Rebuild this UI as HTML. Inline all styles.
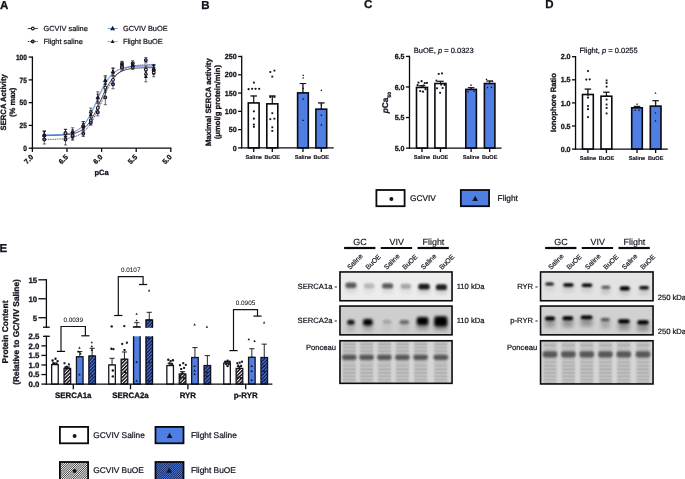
<!DOCTYPE html>
<html><head><meta charset="utf-8"><title>Figure</title>
<style>
html,body{margin:0;padding:0;background:#fff;}
body{width:685px;height:479px;overflow:hidden;}
svg{display:block;font-family:"Liberation Sans",Arial,sans-serif;fill:#18121f;text-rendering:geometricPrecision;}
text{stroke:#18121f;stroke-width:0.22px;}
text[font-weight="bold"]{stroke-width:0.3px;}
</style></head><body>
<svg width="685" height="479" viewBox="0 0 685 479">
<rect x="0" y="0" width="685" height="479" fill="#fff"/>
<text x="0.00" y="8.50" font-size="11.5" font-weight="bold" text-anchor="start">A</text>
<text x="201.20" y="8.90" font-size="11.5" font-weight="bold" text-anchor="start">B</text>
<text x="364.00" y="7.90" font-size="11.5" font-weight="bold" text-anchor="start">C</text>
<text x="545.20" y="8.10" font-size="11.5" font-weight="bold" text-anchor="start">D</text>
<text x="-0.60" y="251.50" font-size="11.5" font-weight="bold" text-anchor="start">E</text>
<line x1="27.80" y1="28.50" x2="37.80" y2="28.50" stroke="#18121f" stroke-width="0.8"/>
<circle cx="32.80" cy="28.50" r="1.35" fill="#fff" stroke="#18121f" stroke-width="1.1"/>
<text x="43.40" y="30.90" font-size="7.4" font-weight="normal" text-anchor="start">GCVIV saline</text>
<line x1="27.80" y1="41.50" x2="37.80" y2="41.50" stroke="#18121f" stroke-width="0.8" stroke-dasharray="1.6 0.6"/>
<circle cx="32.80" cy="41.50" r="1.35" fill="#4f7fe2" stroke="#18121f" stroke-width="1.1"/>
<text x="43.40" y="43.90" font-size="7.4" font-weight="normal" text-anchor="start">Flight saline</text>
<line x1="107.60" y1="28.50" x2="117.60" y2="28.50" stroke="#4f7fe2" stroke-width="0.8"/>
<polygon points="112.60,26.90 111.08,29.70 114.12,29.70" fill="#bbb" stroke="#18121f" stroke-width="1.1"/>
<text x="122.90" y="30.90" font-size="7.4" font-weight="normal" text-anchor="start">GCVIV BuOE</text>
<line x1="107.60" y1="41.50" x2="117.60" y2="41.50" stroke="#4f7fe2" stroke-width="0.8" stroke-dasharray="1.6 0.6"/>
<polygon points="112.60,39.50 110.70,43.00 114.50,43.00" fill="#18121f" stroke="none" stroke-width="0.5"/>
<text x="122.90" y="43.90" font-size="7.4" font-weight="normal" text-anchor="start">Flight BuOE</text>
<line x1="32.40" y1="56.45" x2="32.40" y2="148.85" stroke="#0b0910" stroke-width="1.3"/>
<line x1="31.75" y1="148.20" x2="171.45" y2="148.20" stroke="#0b0910" stroke-width="1.3"/>
<line x1="28.70" y1="148.20" x2="32.40" y2="148.20" stroke="#0b0910" stroke-width="1.3"/>
<text transform="translate(26.90 150.90) scale(0.87 1)" x="0" y="0" font-size="7.6" font-weight="bold" text-anchor="end">0</text>
<line x1="28.70" y1="125.42" x2="32.40" y2="125.42" stroke="#0b0910" stroke-width="1.3"/>
<text transform="translate(26.90 128.12) scale(0.87 1)" x="0" y="0" font-size="7.6" font-weight="bold" text-anchor="end">25</text>
<line x1="28.70" y1="102.65" x2="32.40" y2="102.65" stroke="#0b0910" stroke-width="1.3"/>
<text transform="translate(26.90 105.35) scale(0.87 1)" x="0" y="0" font-size="7.6" font-weight="bold" text-anchor="end">50</text>
<line x1="28.70" y1="79.87" x2="32.40" y2="79.87" stroke="#0b0910" stroke-width="1.3"/>
<text transform="translate(26.90 82.57) scale(0.87 1)" x="0" y="0" font-size="7.6" font-weight="bold" text-anchor="end">75</text>
<line x1="28.70" y1="57.10" x2="32.40" y2="57.10" stroke="#0b0910" stroke-width="1.3"/>
<text transform="translate(26.90 59.80) scale(0.87 1)" x="0" y="0" font-size="7.6" font-weight="bold" text-anchor="end">100</text>
<line x1="32.40" y1="148.20" x2="32.40" y2="151.90" stroke="#0b0910" stroke-width="1.3"/>
<text x="33.90" y="157.50" font-size="7.1" font-weight="bold" text-anchor="end" transform="rotate(-45 33.9 157.5)">7.0</text>
<line x1="67.00" y1="148.20" x2="67.00" y2="151.90" stroke="#0b0910" stroke-width="1.3"/>
<text x="68.50" y="157.50" font-size="7.1" font-weight="bold" text-anchor="end" transform="rotate(-45 68.5 157.5)">6.5</text>
<line x1="101.60" y1="148.20" x2="101.60" y2="151.90" stroke="#0b0910" stroke-width="1.3"/>
<text x="103.10" y="157.50" font-size="7.1" font-weight="bold" text-anchor="end" transform="rotate(-45 103.1 157.5)">6.0</text>
<line x1="136.20" y1="148.20" x2="136.20" y2="151.90" stroke="#0b0910" stroke-width="1.3"/>
<text x="137.70" y="157.50" font-size="7.1" font-weight="bold" text-anchor="end" transform="rotate(-45 137.70000000000002 157.5)">5.5</text>
<line x1="170.80" y1="148.20" x2="170.80" y2="151.90" stroke="#0b0910" stroke-width="1.3"/>
<text x="172.30" y="157.50" font-size="7.1" font-weight="bold" text-anchor="end" transform="rotate(-45 172.3 157.5)">5.0</text>
<text x="5.60" y="102.35" font-size="7.7" font-weight="bold" text-anchor="middle" transform="rotate(-90 5.6 102.35)">SERCA Activity</text>
<text x="15.40" y="102.35" font-size="7.7" font-weight="bold" text-anchor="middle" transform="rotate(-90 15.4 102.35)">(% max)</text>
<text x="101.50" y="175.00" font-size="7.5" font-weight="bold" text-anchor="middle">pCa</text>
<polyline points="44.3,135.41 45.3,135.40 46.3,135.39 47.3,135.39 48.3,135.38 49.3,135.37 50.3,135.36 51.3,135.35 52.3,135.33 53.3,135.31 54.3,135.30 55.3,135.27 56.3,135.25 57.3,135.22 58.3,135.19 59.3,135.15 60.3,135.11 61.3,135.07 62.3,135.01 63.3,134.95 64.3,134.88 65.3,134.80 66.3,134.71 67.3,134.61 68.3,134.49 69.3,134.36 70.3,134.20 71.3,134.03 72.3,133.83 73.3,133.61 74.3,133.36 75.3,133.07 76.3,132.74 77.3,132.38 78.3,131.96 79.3,131.50 80.3,130.97 81.3,130.38 82.3,129.72 83.3,128.98 84.3,128.16 85.3,127.25 86.3,126.24 87.3,125.13 88.3,123.91 89.3,122.58 90.3,121.14 91.3,119.57 92.3,117.90 93.3,116.11 94.3,114.22 95.3,112.23 96.3,110.16 97.3,108.02 98.3,105.81 99.3,103.58 100.3,101.32 101.3,99.07 102.3,96.83 103.3,94.64 104.3,92.51 105.3,90.45 106.3,88.48 107.3,86.60 108.3,84.83 109.3,83.18 110.3,81.64 111.3,80.21 112.3,78.90 113.3,77.70 114.3,76.60 115.3,75.61 116.3,74.72 117.3,73.91 118.3,73.19 119.3,72.54 120.3,71.96 121.3,71.44 122.3,70.99 123.3,70.58 124.3,70.22 125.3,69.90 126.3,69.62 127.3,69.37 128.3,69.15 129.3,68.96 130.3,68.79 131.3,68.64 132.3,68.51 133.3,68.40 134.3,68.30 135.3,68.21 136.3,68.13 137.3,68.06 138.3,68.00 139.3,67.95 140.3,67.90 141.3,67.86 142.3,67.83 143.3,67.80 144.3,67.77 145.3,67.74 146.3,67.72 147.3,67.71 148.3,67.69 149.3,67.68 150.3,67.66 151.3,67.65 152.3,67.64 153.3,67.63 154.3,67.63 155.3,67.62" fill="none" stroke="#18121f" stroke-width="0.8"/>
<polyline points="44.3,139.47 45.3,139.46 46.3,139.45 47.3,139.43 48.3,139.42 49.3,139.40 50.3,139.38 51.3,139.36 52.3,139.34 53.3,139.32 54.3,139.29 55.3,139.25 56.3,139.22 57.3,139.17 58.3,139.13 59.3,139.07 60.3,139.02 61.3,138.95 62.3,138.87 63.3,138.79 64.3,138.69 65.3,138.59 66.3,138.47 67.3,138.33 68.3,138.18 69.3,138.01 70.3,137.82 71.3,137.60 72.3,137.36 73.3,137.09 74.3,136.79 75.3,136.46 76.3,136.08 77.3,135.67 78.3,135.20 79.3,134.68 80.3,134.11 81.3,133.47 82.3,132.77 83.3,132.00 84.3,131.14 85.3,130.21 86.3,129.18 87.3,128.06 88.3,126.85 89.3,125.53 90.3,124.12 91.3,122.60 92.3,120.97 93.3,119.25 94.3,117.42 95.3,115.51 96.3,113.51 97.3,111.44 98.3,109.30 99.3,107.11 100.3,104.89 101.3,102.64 102.3,100.39 103.3,98.15 104.3,95.94 105.3,93.77 106.3,91.66 107.3,89.61 108.3,87.65 109.3,85.77 110.3,83.98 111.3,82.30 112.3,80.72 113.3,79.24 114.3,77.86 115.3,76.59 116.3,75.41 117.3,74.33 118.3,73.34 119.3,72.44 120.3,71.62 121.3,70.87 122.3,70.20 123.3,69.59 124.3,69.04 125.3,68.54 126.3,68.10 127.3,67.70 128.3,67.34 129.3,67.02 130.3,66.73 131.3,66.47 132.3,66.24 133.3,66.04 134.3,65.85 135.3,65.69 136.3,65.55 137.3,65.42 138.3,65.30 139.3,65.20 140.3,65.11 141.3,65.03 142.3,64.96 143.3,64.89 144.3,64.84 145.3,64.79 146.3,64.74 147.3,64.70 148.3,64.67 149.3,64.64 150.3,64.61 151.3,64.58 152.3,64.56 153.3,64.54 154.3,64.52 155.3,64.51" fill="none" stroke="#18121f" stroke-width="0.8" stroke-dasharray="1 0.8"/>
<polyline points="44.3,134.93 45.3,134.92 46.3,134.91 47.3,134.90 48.3,134.88 49.3,134.87 50.3,134.85 51.3,134.83 52.3,134.81 53.3,134.78 54.3,134.75 55.3,134.72 56.3,134.68 57.3,134.63 58.3,134.58 59.3,134.52 60.3,134.46 61.3,134.38 62.3,134.30 63.3,134.20 64.3,134.09 65.3,133.96 66.3,133.82 67.3,133.65 68.3,133.47 69.3,133.26 70.3,133.02 71.3,132.74 72.3,132.44 73.3,132.09 74.3,131.69 75.3,131.25 76.3,130.75 77.3,130.19 78.3,129.56 79.3,128.85 80.3,128.07 81.3,127.20 82.3,126.23 83.3,125.16 84.3,123.98 85.3,122.70 86.3,121.29 87.3,119.77 88.3,118.14 89.3,116.39 90.3,114.53 91.3,112.57 92.3,110.51 93.3,108.37 94.3,106.17 95.3,103.92 96.3,101.64 97.3,99.36 98.3,97.08 99.3,94.83 100.3,92.64 101.3,90.51 102.3,88.46 103.3,86.50 104.3,84.65 105.3,82.91 106.3,81.29 107.3,79.78 108.3,78.39 109.3,77.11 110.3,75.94 111.3,74.88 112.3,73.92 113.3,73.06 114.3,72.28 115.3,71.58 116.3,70.96 117.3,70.40 118.3,69.91 119.3,69.47 120.3,69.08 121.3,68.74 122.3,68.43 123.3,68.16 124.3,67.93 125.3,67.72 126.3,67.53 127.3,67.37 128.3,67.23 129.3,67.10 130.3,66.99 131.3,66.90 132.3,66.81 133.3,66.74 134.3,66.67 135.3,66.61 136.3,66.56 137.3,66.52 138.3,66.48 139.3,66.45 140.3,66.42 141.3,66.39 142.3,66.37 143.3,66.35 144.3,66.33 145.3,66.32 146.3,66.30 147.3,66.29 148.3,66.28 149.3,66.27 150.3,66.27 151.3,66.26 152.3,66.25 153.3,66.25 154.3,66.24 155.3,66.24" fill="none" stroke="#4f7fe2" stroke-width="0.8"/>
<polyline points="44.3,135.36 45.3,135.35 46.3,135.34 47.3,135.32 48.3,135.31 49.3,135.29 50.3,135.27 51.3,135.24 52.3,135.21 53.3,135.18 54.3,135.15 55.3,135.11 56.3,135.06 57.3,135.01 58.3,134.95 59.3,134.89 60.3,134.81 61.3,134.73 62.3,134.63 63.3,134.52 64.3,134.40 65.3,134.26 66.3,134.11 67.3,133.93 68.3,133.73 69.3,133.50 70.3,133.25 71.3,132.97 72.3,132.64 73.3,132.28 74.3,131.88 75.3,131.43 76.3,130.92 77.3,130.35 78.3,129.72 79.3,129.02 80.3,128.25 81.3,127.39 82.3,126.44 83.3,125.40 84.3,124.26 85.3,123.02 86.3,121.68 87.3,120.22 88.3,118.66 89.3,116.99 90.3,115.22 91.3,113.36 92.3,111.40 93.3,109.37 94.3,107.26 95.3,105.11 96.3,102.91 97.3,100.70 98.3,98.49 99.3,96.28 100.3,94.12 101.3,92.00 102.3,89.94 103.3,87.96 104.3,86.06 105.3,84.26 106.3,82.57 107.3,80.97 108.3,79.49 109.3,78.11 110.3,76.84 111.3,75.67 112.3,74.60 113.3,73.63 114.3,72.74 115.3,71.94 116.3,71.22 117.3,70.57 118.3,69.99 119.3,69.46 120.3,68.99 121.3,68.58 122.3,68.20 123.3,67.87 124.3,67.57 125.3,67.31 126.3,67.08 127.3,66.87 128.3,66.69 129.3,66.53 130.3,66.38 131.3,66.26 132.3,66.14 133.3,66.04 134.3,65.96 135.3,65.88 136.3,65.81 137.3,65.75 138.3,65.70 139.3,65.65 140.3,65.61 141.3,65.57 142.3,65.54 143.3,65.51 144.3,65.49 145.3,65.46 146.3,65.44 147.3,65.43 148.3,65.41 149.3,65.40 150.3,65.39 151.3,65.38 152.3,65.37 153.3,65.36 154.3,65.35 155.3,65.35" fill="none" stroke="#4f7fe2" stroke-width="0.8" stroke-dasharray="1 0.8"/>
<line x1="44.30" y1="139.96" x2="44.30" y2="130.85" stroke="#0b0910" stroke-width="0.6"/>
<line x1="42.70" y1="139.96" x2="45.90" y2="139.96" stroke="#0b0910" stroke-width="0.6"/>
<line x1="42.70" y1="130.85" x2="45.90" y2="130.85" stroke="#0b0910" stroke-width="0.6"/>
<line x1="65.50" y1="136.61" x2="65.50" y2="129.32" stroke="#0b0910" stroke-width="0.6"/>
<line x1="63.90" y1="136.61" x2="67.10" y2="136.61" stroke="#0b0910" stroke-width="0.6"/>
<line x1="63.90" y1="129.32" x2="67.10" y2="129.32" stroke="#0b0910" stroke-width="0.6"/>
<line x1="72.60" y1="140.15" x2="72.60" y2="132.86" stroke="#0b0910" stroke-width="0.6"/>
<line x1="71.00" y1="140.15" x2="74.20" y2="140.15" stroke="#0b0910" stroke-width="0.6"/>
<line x1="71.00" y1="132.86" x2="74.20" y2="132.86" stroke="#0b0910" stroke-width="0.6"/>
<line x1="83.30" y1="130.81" x2="83.30" y2="121.70" stroke="#0b0910" stroke-width="0.6"/>
<line x1="81.70" y1="130.81" x2="84.90" y2="130.81" stroke="#0b0910" stroke-width="0.6"/>
<line x1="81.70" y1="121.70" x2="84.90" y2="121.70" stroke="#0b0910" stroke-width="0.6"/>
<line x1="90.80" y1="124.01" x2="90.80" y2="116.73" stroke="#0b0910" stroke-width="0.6"/>
<line x1="89.20" y1="124.01" x2="92.40" y2="124.01" stroke="#0b0910" stroke-width="0.6"/>
<line x1="89.20" y1="116.73" x2="92.40" y2="116.73" stroke="#0b0910" stroke-width="0.6"/>
<line x1="97.80" y1="112.39" x2="97.80" y2="103.28" stroke="#0b0910" stroke-width="0.6"/>
<line x1="96.20" y1="112.39" x2="99.40" y2="112.39" stroke="#0b0910" stroke-width="0.6"/>
<line x1="96.20" y1="103.28" x2="99.40" y2="103.28" stroke="#0b0910" stroke-width="0.6"/>
<line x1="105.30" y1="92.27" x2="105.30" y2="83.16" stroke="#0b0910" stroke-width="0.6"/>
<line x1="103.70" y1="92.27" x2="106.90" y2="92.27" stroke="#0b0910" stroke-width="0.6"/>
<line x1="103.70" y1="83.16" x2="106.90" y2="83.16" stroke="#0b0910" stroke-width="0.6"/>
<line x1="113.00" y1="83.51" x2="113.00" y2="76.22" stroke="#0b0910" stroke-width="0.6"/>
<line x1="111.40" y1="83.51" x2="114.60" y2="83.51" stroke="#0b0910" stroke-width="0.6"/>
<line x1="111.40" y1="76.22" x2="114.60" y2="76.22" stroke="#0b0910" stroke-width="0.6"/>
<line x1="122.00" y1="70.21" x2="122.00" y2="64.74" stroke="#0b0910" stroke-width="0.6"/>
<line x1="120.40" y1="70.21" x2="123.60" y2="70.21" stroke="#0b0910" stroke-width="0.6"/>
<line x1="120.40" y1="64.74" x2="123.60" y2="64.74" stroke="#0b0910" stroke-width="0.6"/>
<line x1="132.70" y1="69.38" x2="132.70" y2="63.91" stroke="#0b0910" stroke-width="0.6"/>
<line x1="131.10" y1="69.38" x2="134.30" y2="69.38" stroke="#0b0910" stroke-width="0.6"/>
<line x1="131.10" y1="63.91" x2="134.30" y2="63.91" stroke="#0b0910" stroke-width="0.6"/>
<line x1="145.85" y1="73.20" x2="145.85" y2="65.91" stroke="#0b0910" stroke-width="0.6"/>
<line x1="144.25" y1="73.20" x2="147.45" y2="73.20" stroke="#0b0910" stroke-width="0.6"/>
<line x1="144.25" y1="65.91" x2="147.45" y2="65.91" stroke="#0b0910" stroke-width="0.6"/>
<line x1="153.70" y1="76.74" x2="153.70" y2="67.63" stroke="#0b0910" stroke-width="0.6"/>
<line x1="152.10" y1="76.74" x2="155.30" y2="76.74" stroke="#0b0910" stroke-width="0.6"/>
<line x1="152.10" y1="67.63" x2="155.30" y2="67.63" stroke="#0b0910" stroke-width="0.6"/>
<line x1="44.30" y1="144.02" x2="44.30" y2="134.91" stroke="#0b0910" stroke-width="0.6"/>
<line x1="42.70" y1="144.02" x2="45.90" y2="144.02" stroke="#0b0910" stroke-width="0.6"/>
<line x1="42.70" y1="134.91" x2="45.90" y2="134.91" stroke="#0b0910" stroke-width="0.6"/>
<line x1="65.50" y1="144.94" x2="65.50" y2="134.01" stroke="#0b0910" stroke-width="0.6"/>
<line x1="63.90" y1="144.94" x2="67.10" y2="144.94" stroke="#0b0910" stroke-width="0.6"/>
<line x1="63.90" y1="134.01" x2="67.10" y2="134.01" stroke="#0b0910" stroke-width="0.6"/>
<line x1="72.60" y1="139.11" x2="72.60" y2="131.82" stroke="#0b0910" stroke-width="0.6"/>
<line x1="71.00" y1="139.11" x2="74.20" y2="139.11" stroke="#0b0910" stroke-width="0.6"/>
<line x1="71.00" y1="131.82" x2="74.20" y2="131.82" stroke="#0b0910" stroke-width="0.6"/>
<line x1="83.30" y1="136.55" x2="83.30" y2="131.08" stroke="#0b0910" stroke-width="0.6"/>
<line x1="81.70" y1="136.55" x2="84.90" y2="136.55" stroke="#0b0910" stroke-width="0.6"/>
<line x1="81.70" y1="131.08" x2="84.90" y2="131.08" stroke="#0b0910" stroke-width="0.6"/>
<line x1="90.80" y1="125.19" x2="90.80" y2="119.73" stroke="#0b0910" stroke-width="0.6"/>
<line x1="89.20" y1="125.19" x2="92.40" y2="125.19" stroke="#0b0910" stroke-width="0.6"/>
<line x1="89.20" y1="119.73" x2="92.40" y2="119.73" stroke="#0b0910" stroke-width="0.6"/>
<line x1="97.80" y1="115.84" x2="97.80" y2="108.55" stroke="#0b0910" stroke-width="0.6"/>
<line x1="96.20" y1="115.84" x2="99.40" y2="115.84" stroke="#0b0910" stroke-width="0.6"/>
<line x1="96.20" y1="108.55" x2="99.40" y2="108.55" stroke="#0b0910" stroke-width="0.6"/>
<line x1="105.30" y1="104.70" x2="105.30" y2="90.13" stroke="#0b0910" stroke-width="0.6"/>
<line x1="103.70" y1="104.70" x2="106.90" y2="104.70" stroke="#0b0910" stroke-width="0.6"/>
<line x1="103.70" y1="90.13" x2="106.90" y2="90.13" stroke="#0b0910" stroke-width="0.6"/>
<line x1="113.00" y1="88.78" x2="113.00" y2="79.67" stroke="#0b0910" stroke-width="0.6"/>
<line x1="111.40" y1="88.78" x2="114.60" y2="88.78" stroke="#0b0910" stroke-width="0.6"/>
<line x1="111.40" y1="79.67" x2="114.60" y2="79.67" stroke="#0b0910" stroke-width="0.6"/>
<line x1="122.00" y1="66.75" x2="122.00" y2="61.28" stroke="#0b0910" stroke-width="0.6"/>
<line x1="120.40" y1="66.75" x2="123.60" y2="66.75" stroke="#0b0910" stroke-width="0.6"/>
<line x1="120.40" y1="61.28" x2="123.60" y2="61.28" stroke="#0b0910" stroke-width="0.6"/>
<line x1="132.70" y1="66.16" x2="132.70" y2="60.69" stroke="#0b0910" stroke-width="0.6"/>
<line x1="131.10" y1="66.16" x2="134.30" y2="66.16" stroke="#0b0910" stroke-width="0.6"/>
<line x1="131.10" y1="60.69" x2="134.30" y2="60.69" stroke="#0b0910" stroke-width="0.6"/>
<line x1="145.85" y1="62.94" x2="145.85" y2="57.47" stroke="#0b0910" stroke-width="0.6"/>
<line x1="144.25" y1="62.94" x2="147.45" y2="62.94" stroke="#0b0910" stroke-width="0.6"/>
<line x1="144.25" y1="57.47" x2="147.45" y2="57.47" stroke="#0b0910" stroke-width="0.6"/>
<line x1="153.70" y1="74.56" x2="153.70" y2="65.45" stroke="#0b0910" stroke-width="0.6"/>
<line x1="152.10" y1="74.56" x2="155.30" y2="74.56" stroke="#0b0910" stroke-width="0.6"/>
<line x1="152.10" y1="65.45" x2="155.30" y2="65.45" stroke="#0b0910" stroke-width="0.6"/>
<line x1="44.30" y1="138.57" x2="44.30" y2="131.28" stroke="#0b0910" stroke-width="0.6"/>
<line x1="42.70" y1="138.57" x2="45.90" y2="138.57" stroke="#0b0910" stroke-width="0.6"/>
<line x1="42.70" y1="131.28" x2="45.90" y2="131.28" stroke="#0b0910" stroke-width="0.6"/>
<line x1="65.50" y1="136.67" x2="65.50" y2="129.38" stroke="#0b0910" stroke-width="0.6"/>
<line x1="63.90" y1="136.67" x2="67.10" y2="136.67" stroke="#0b0910" stroke-width="0.6"/>
<line x1="63.90" y1="129.38" x2="67.10" y2="129.38" stroke="#0b0910" stroke-width="0.6"/>
<line x1="72.60" y1="135.07" x2="72.60" y2="127.78" stroke="#0b0910" stroke-width="0.6"/>
<line x1="71.00" y1="135.07" x2="74.20" y2="135.07" stroke="#0b0910" stroke-width="0.6"/>
<line x1="71.00" y1="127.78" x2="74.20" y2="127.78" stroke="#0b0910" stroke-width="0.6"/>
<line x1="83.30" y1="128.80" x2="83.30" y2="121.51" stroke="#0b0910" stroke-width="0.6"/>
<line x1="81.70" y1="128.80" x2="84.90" y2="128.80" stroke="#0b0910" stroke-width="0.6"/>
<line x1="81.70" y1="121.51" x2="84.90" y2="121.51" stroke="#0b0910" stroke-width="0.6"/>
<line x1="90.80" y1="115.38" x2="90.80" y2="108.09" stroke="#0b0910" stroke-width="0.6"/>
<line x1="89.20" y1="115.38" x2="92.40" y2="115.38" stroke="#0b0910" stroke-width="0.6"/>
<line x1="89.20" y1="108.09" x2="92.40" y2="108.09" stroke="#0b0910" stroke-width="0.6"/>
<line x1="97.80" y1="102.77" x2="97.80" y2="91.84" stroke="#0b0910" stroke-width="0.6"/>
<line x1="96.20" y1="102.77" x2="99.40" y2="102.77" stroke="#0b0910" stroke-width="0.6"/>
<line x1="96.20" y1="91.84" x2="99.40" y2="91.84" stroke="#0b0910" stroke-width="0.6"/>
<line x1="105.30" y1="84.73" x2="105.30" y2="75.62" stroke="#0b0910" stroke-width="0.6"/>
<line x1="103.70" y1="84.73" x2="106.90" y2="84.73" stroke="#0b0910" stroke-width="0.6"/>
<line x1="103.70" y1="75.62" x2="106.90" y2="75.62" stroke="#0b0910" stroke-width="0.6"/>
<line x1="113.00" y1="75.13" x2="113.00" y2="67.84" stroke="#0b0910" stroke-width="0.6"/>
<line x1="111.40" y1="75.13" x2="114.60" y2="75.13" stroke="#0b0910" stroke-width="0.6"/>
<line x1="111.40" y1="67.84" x2="114.60" y2="67.84" stroke="#0b0910" stroke-width="0.6"/>
<line x1="122.00" y1="68.52" x2="122.00" y2="63.05" stroke="#0b0910" stroke-width="0.6"/>
<line x1="120.40" y1="68.52" x2="123.60" y2="68.52" stroke="#0b0910" stroke-width="0.6"/>
<line x1="120.40" y1="63.05" x2="123.60" y2="63.05" stroke="#0b0910" stroke-width="0.6"/>
<line x1="132.70" y1="67.69" x2="132.70" y2="62.23" stroke="#0b0910" stroke-width="0.6"/>
<line x1="131.10" y1="67.69" x2="134.30" y2="67.69" stroke="#0b0910" stroke-width="0.6"/>
<line x1="131.10" y1="62.23" x2="134.30" y2="62.23" stroke="#0b0910" stroke-width="0.6"/>
<line x1="145.85" y1="77.24" x2="145.85" y2="69.95" stroke="#0b0910" stroke-width="0.6"/>
<line x1="144.25" y1="77.24" x2="147.45" y2="77.24" stroke="#0b0910" stroke-width="0.6"/>
<line x1="144.25" y1="69.95" x2="147.45" y2="69.95" stroke="#0b0910" stroke-width="0.6"/>
<line x1="153.70" y1="72.62" x2="153.70" y2="65.33" stroke="#0b0910" stroke-width="0.6"/>
<line x1="152.10" y1="72.62" x2="155.30" y2="72.62" stroke="#0b0910" stroke-width="0.6"/>
<line x1="152.10" y1="65.33" x2="155.30" y2="65.33" stroke="#0b0910" stroke-width="0.6"/>
<line x1="44.30" y1="139.01" x2="44.30" y2="131.72" stroke="#0b0910" stroke-width="0.6"/>
<line x1="42.70" y1="139.01" x2="45.90" y2="139.01" stroke="#0b0910" stroke-width="0.6"/>
<line x1="42.70" y1="131.72" x2="45.90" y2="131.72" stroke="#0b0910" stroke-width="0.6"/>
<line x1="65.50" y1="139.70" x2="65.50" y2="132.41" stroke="#0b0910" stroke-width="0.6"/>
<line x1="63.90" y1="139.70" x2="67.10" y2="139.70" stroke="#0b0910" stroke-width="0.6"/>
<line x1="63.90" y1="132.41" x2="67.10" y2="132.41" stroke="#0b0910" stroke-width="0.6"/>
<line x1="72.60" y1="135.27" x2="72.60" y2="129.81" stroke="#0b0910" stroke-width="0.6"/>
<line x1="71.00" y1="135.27" x2="74.20" y2="135.27" stroke="#0b0910" stroke-width="0.6"/>
<line x1="71.00" y1="129.81" x2="74.20" y2="129.81" stroke="#0b0910" stroke-width="0.6"/>
<line x1="83.30" y1="129.04" x2="83.30" y2="123.58" stroke="#0b0910" stroke-width="0.6"/>
<line x1="81.70" y1="129.04" x2="84.90" y2="129.04" stroke="#0b0910" stroke-width="0.6"/>
<line x1="81.70" y1="123.58" x2="84.90" y2="123.58" stroke="#0b0910" stroke-width="0.6"/>
<line x1="90.80" y1="117.95" x2="90.80" y2="110.66" stroke="#0b0910" stroke-width="0.6"/>
<line x1="89.20" y1="117.95" x2="92.40" y2="117.95" stroke="#0b0910" stroke-width="0.6"/>
<line x1="89.20" y1="110.66" x2="92.40" y2="110.66" stroke="#0b0910" stroke-width="0.6"/>
<line x1="97.80" y1="101.41" x2="97.80" y2="94.13" stroke="#0b0910" stroke-width="0.6"/>
<line x1="96.20" y1="101.41" x2="99.40" y2="101.41" stroke="#0b0910" stroke-width="0.6"/>
<line x1="96.20" y1="94.13" x2="99.40" y2="94.13" stroke="#0b0910" stroke-width="0.6"/>
<line x1="105.30" y1="84.26" x2="105.30" y2="76.98" stroke="#0b0910" stroke-width="0.6"/>
<line x1="103.70" y1="84.26" x2="106.90" y2="84.26" stroke="#0b0910" stroke-width="0.6"/>
<line x1="103.70" y1="76.98" x2="106.90" y2="76.98" stroke="#0b0910" stroke-width="0.6"/>
<line x1="113.00" y1="75.73" x2="113.00" y2="68.45" stroke="#0b0910" stroke-width="0.6"/>
<line x1="111.40" y1="75.73" x2="114.60" y2="75.73" stroke="#0b0910" stroke-width="0.6"/>
<line x1="111.40" y1="68.45" x2="114.60" y2="68.45" stroke="#0b0910" stroke-width="0.6"/>
<line x1="122.00" y1="67.40" x2="122.00" y2="61.93" stroke="#0b0910" stroke-width="0.6"/>
<line x1="120.40" y1="67.40" x2="123.60" y2="67.40" stroke="#0b0910" stroke-width="0.6"/>
<line x1="120.40" y1="61.93" x2="123.60" y2="61.93" stroke="#0b0910" stroke-width="0.6"/>
<line x1="132.70" y1="67.92" x2="132.70" y2="62.46" stroke="#0b0910" stroke-width="0.6"/>
<line x1="131.10" y1="67.92" x2="134.30" y2="67.92" stroke="#0b0910" stroke-width="0.6"/>
<line x1="131.10" y1="62.46" x2="134.30" y2="62.46" stroke="#0b0910" stroke-width="0.6"/>
<line x1="145.85" y1="81.85" x2="145.85" y2="70.92" stroke="#0b0910" stroke-width="0.6"/>
<line x1="144.25" y1="81.85" x2="147.45" y2="81.85" stroke="#0b0910" stroke-width="0.6"/>
<line x1="144.25" y1="70.92" x2="147.45" y2="70.92" stroke="#0b0910" stroke-width="0.6"/>
<line x1="153.70" y1="73.56" x2="153.70" y2="64.45" stroke="#0b0910" stroke-width="0.6"/>
<line x1="152.10" y1="73.56" x2="155.30" y2="73.56" stroke="#0b0910" stroke-width="0.6"/>
<line x1="152.10" y1="64.45" x2="155.30" y2="64.45" stroke="#0b0910" stroke-width="0.6"/>
<circle cx="44.30" cy="135.41" r="1.4" fill="#fff" stroke="#18121f" stroke-width="1.1"/>
<circle cx="65.50" cy="132.96" r="1.4" fill="#fff" stroke="#18121f" stroke-width="1.1"/>
<circle cx="72.60" cy="136.50" r="1.4" fill="#fff" stroke="#18121f" stroke-width="1.1"/>
<circle cx="83.30" cy="126.25" r="1.4" fill="#fff" stroke="#18121f" stroke-width="1.1"/>
<circle cx="90.80" cy="120.37" r="1.4" fill="#fff" stroke="#18121f" stroke-width="1.1"/>
<circle cx="97.80" cy="107.83" r="1.4" fill="#fff" stroke="#18121f" stroke-width="1.1"/>
<circle cx="105.30" cy="87.72" r="1.4" fill="#fff" stroke="#18121f" stroke-width="1.1"/>
<circle cx="113.00" cy="79.87" r="1.4" fill="#fff" stroke="#18121f" stroke-width="1.1"/>
<circle cx="122.00" cy="67.47" r="1.4" fill="#fff" stroke="#18121f" stroke-width="1.1"/>
<circle cx="132.70" cy="66.64" r="1.4" fill="#fff" stroke="#18121f" stroke-width="1.1"/>
<circle cx="145.85" cy="69.55" r="1.4" fill="#fff" stroke="#18121f" stroke-width="1.1"/>
<circle cx="153.70" cy="72.19" r="1.4" fill="#fff" stroke="#18121f" stroke-width="1.1"/>
<circle cx="44.30" cy="139.47" r="1.4" fill="#4f7fe2" stroke="#18121f" stroke-width="1.1"/>
<circle cx="65.50" cy="139.47" r="1.4" fill="#4f7fe2" stroke="#18121f" stroke-width="1.1"/>
<circle cx="72.60" cy="135.46" r="1.4" fill="#4f7fe2" stroke="#18121f" stroke-width="1.1"/>
<circle cx="83.30" cy="133.82" r="1.4" fill="#4f7fe2" stroke="#18121f" stroke-width="1.1"/>
<circle cx="90.80" cy="122.46" r="1.4" fill="#4f7fe2" stroke="#18121f" stroke-width="1.1"/>
<circle cx="97.80" cy="112.20" r="1.4" fill="#4f7fe2" stroke="#18121f" stroke-width="1.1"/>
<circle cx="105.30" cy="97.42" r="1.4" fill="#4f7fe2" stroke="#18121f" stroke-width="1.1"/>
<circle cx="113.00" cy="84.23" r="1.4" fill="#4f7fe2" stroke="#18121f" stroke-width="1.1"/>
<circle cx="122.00" cy="64.02" r="1.4" fill="#4f7fe2" stroke="#18121f" stroke-width="1.1"/>
<circle cx="132.70" cy="63.42" r="1.4" fill="#4f7fe2" stroke="#18121f" stroke-width="1.1"/>
<circle cx="145.85" cy="60.21" r="1.4" fill="#4f7fe2" stroke="#18121f" stroke-width="1.1"/>
<circle cx="153.70" cy="70.00" r="1.4" fill="#4f7fe2" stroke="#18121f" stroke-width="1.1"/>
<polygon points="44.30,133.23 42.68,136.20 45.91,136.20" fill="#eee" stroke="#18121f" stroke-width="1.0"/>
<polygon points="65.50,131.32 63.88,134.30 67.11,134.30" fill="#eee" stroke="#18121f" stroke-width="1.0"/>
<polygon points="72.60,129.72 70.98,132.70 74.21,132.70" fill="#eee" stroke="#18121f" stroke-width="1.0"/>
<polygon points="83.30,123.46 81.69,126.43 84.91,126.43" fill="#eee" stroke="#18121f" stroke-width="1.0"/>
<polygon points="90.80,110.04 89.19,113.01 92.41,113.01" fill="#eee" stroke="#18121f" stroke-width="1.0"/>
<polygon points="97.80,95.60 96.19,98.58 99.41,98.58" fill="#eee" stroke="#18121f" stroke-width="1.0"/>
<polygon points="105.30,78.48 103.69,81.45 106.91,81.45" fill="#eee" stroke="#18121f" stroke-width="1.0"/>
<polygon points="113.00,69.79 111.39,72.76 114.61,72.76" fill="#eee" stroke="#18121f" stroke-width="1.0"/>
<polygon points="122.00,64.09 120.39,67.06 123.61,67.06" fill="#eee" stroke="#18121f" stroke-width="1.0"/>
<polygon points="132.70,63.26 131.08,66.23 134.31,66.23" fill="#eee" stroke="#18121f" stroke-width="1.0"/>
<polygon points="145.85,71.90 144.23,74.87 147.47,74.87" fill="#eee" stroke="#18121f" stroke-width="1.0"/>
<polygon points="153.70,67.28 152.08,70.25 155.31,70.25" fill="#eee" stroke="#18121f" stroke-width="1.0"/>
<polygon points="44.30,133.36 42.40,136.86 46.20,136.86" fill="#18121f" stroke="none" stroke-width="0.5"/>
<polygon points="65.50,134.05 63.60,137.55 67.40,137.55" fill="#18121f" stroke="none" stroke-width="0.5"/>
<polygon points="72.60,130.54 70.70,134.04 74.50,134.04" fill="#18121f" stroke="none" stroke-width="0.5"/>
<polygon points="83.30,124.31 81.40,127.81 85.20,127.81" fill="#18121f" stroke="none" stroke-width="0.5"/>
<polygon points="90.80,112.30 88.90,115.80 92.70,115.80" fill="#18121f" stroke="none" stroke-width="0.5"/>
<polygon points="97.80,95.77 95.90,99.27 99.70,99.27" fill="#18121f" stroke="none" stroke-width="0.5"/>
<polygon points="105.30,78.62 103.40,82.12 107.20,82.12" fill="#18121f" stroke="none" stroke-width="0.5"/>
<polygon points="113.00,70.09 111.10,73.59 114.90,73.59" fill="#18121f" stroke="none" stroke-width="0.5"/>
<polygon points="122.00,62.67 120.10,66.17 123.90,66.17" fill="#18121f" stroke="none" stroke-width="0.5"/>
<polygon points="132.70,63.19 130.80,66.69 134.60,66.69" fill="#18121f" stroke="none" stroke-width="0.5"/>
<polygon points="145.85,74.38 143.95,77.88 147.75,77.88" fill="#18121f" stroke="none" stroke-width="0.5"/>
<polygon points="153.70,67.00 151.80,70.50 155.60,70.50" fill="#18121f" stroke="none" stroke-width="0.5"/>
<line x1="253.70" y1="95.98" x2="253.70" y2="109.15" stroke="#0b0910" stroke-width="0.8"/>
<line x1="250.50" y1="95.98" x2="256.90" y2="95.98" stroke="#0b0910" stroke-width="0.8"/>
<line x1="250.50" y1="109.15" x2="256.90" y2="109.15" stroke="#0b0910" stroke-width="0.8"/>
<rect x="248.30" y="102.93" width="10.80" height="44.97" fill="#fff" stroke="#0b0910" stroke-width="1.6"/>
<line x1="253.70" y1="95.98" x2="253.70" y2="102.93" stroke="#0b0910" stroke-width="0.8"/>
<line x1="250.50" y1="95.98" x2="256.90" y2="95.98" stroke="#0b0910" stroke-width="0.8"/>
<line x1="272.30" y1="95.98" x2="272.30" y2="110.61" stroke="#0b0910" stroke-width="0.8"/>
<line x1="269.10" y1="95.98" x2="275.50" y2="95.98" stroke="#0b0910" stroke-width="0.8"/>
<line x1="269.10" y1="110.61" x2="275.50" y2="110.61" stroke="#0b0910" stroke-width="0.8"/>
<rect x="266.80" y="103.85" width="11.00" height="44.05" fill="#fff" stroke="#0b0910" stroke-width="1.6"/>
<line x1="272.30" y1="95.98" x2="272.30" y2="103.85" stroke="#0b0910" stroke-width="0.8"/>
<line x1="269.10" y1="95.98" x2="275.50" y2="95.98" stroke="#0b0910" stroke-width="0.8"/>
<line x1="302.95" y1="83.55" x2="302.95" y2="101.10" stroke="#0b0910" stroke-width="0.8"/>
<line x1="299.75" y1="83.55" x2="306.15" y2="83.55" stroke="#0b0910" stroke-width="0.8"/>
<line x1="299.75" y1="101.10" x2="306.15" y2="101.10" stroke="#0b0910" stroke-width="0.8"/>
<rect x="297.60" y="92.88" width="10.70" height="55.02" fill="#4f7fe2" stroke="#0b0910" stroke-width="1.6"/>
<line x1="302.95" y1="83.55" x2="302.95" y2="92.88" stroke="#0b0910" stroke-width="0.8"/>
<line x1="299.75" y1="83.55" x2="306.15" y2="83.55" stroke="#0b0910" stroke-width="0.8"/>
<line x1="321.30" y1="102.93" x2="321.30" y2="115.36" stroke="#0b0910" stroke-width="0.8"/>
<line x1="318.10" y1="102.93" x2="324.50" y2="102.93" stroke="#0b0910" stroke-width="0.8"/>
<line x1="318.10" y1="115.36" x2="324.50" y2="115.36" stroke="#0b0910" stroke-width="0.8"/>
<rect x="315.90" y="109.15" width="10.80" height="38.75" fill="#4f7fe2" stroke="#0b0910" stroke-width="1.6"/>
<line x1="321.30" y1="102.93" x2="321.30" y2="109.15" stroke="#0b0910" stroke-width="0.8"/>
<line x1="318.10" y1="102.93" x2="324.50" y2="102.93" stroke="#0b0910" stroke-width="0.8"/>
<line x1="241.70" y1="55.85" x2="241.70" y2="148.55" stroke="#0b0910" stroke-width="1.3"/>
<line x1="241.05" y1="147.90" x2="333.70" y2="147.90" stroke="#0b0910" stroke-width="1.3"/>
<line x1="238.10" y1="147.90" x2="241.70" y2="147.90" stroke="#0b0910" stroke-width="1.3"/>
<text transform="translate(236.70 150.50) scale(0.96 1)" x="0" y="0" font-size="7.4" font-weight="bold" text-anchor="end">0</text>
<line x1="238.10" y1="129.62" x2="241.70" y2="129.62" stroke="#0b0910" stroke-width="1.3"/>
<text transform="translate(236.70 132.22) scale(0.96 1)" x="0" y="0" font-size="7.4" font-weight="bold" text-anchor="end">50</text>
<line x1="238.10" y1="111.34" x2="241.70" y2="111.34" stroke="#0b0910" stroke-width="1.3"/>
<text transform="translate(236.70 113.94) scale(0.96 1)" x="0" y="0" font-size="7.4" font-weight="bold" text-anchor="end">100</text>
<line x1="238.10" y1="93.06" x2="241.70" y2="93.06" stroke="#0b0910" stroke-width="1.3"/>
<text transform="translate(236.70 95.66) scale(0.96 1)" x="0" y="0" font-size="7.4" font-weight="bold" text-anchor="end">150</text>
<line x1="238.10" y1="74.78" x2="241.70" y2="74.78" stroke="#0b0910" stroke-width="1.3"/>
<text transform="translate(236.70 77.38) scale(0.96 1)" x="0" y="0" font-size="7.4" font-weight="bold" text-anchor="end">200</text>
<line x1="238.10" y1="56.50" x2="241.70" y2="56.50" stroke="#0b0910" stroke-width="1.3"/>
<text transform="translate(236.70 59.10) scale(0.96 1)" x="0" y="0" font-size="7.4" font-weight="bold" text-anchor="end">250</text>
<line x1="253.70" y1="147.90" x2="253.70" y2="151.90" stroke="#0b0910" stroke-width="1.3"/>
<text x="253.70" y="158.80" font-size="5.6" font-weight="bold" text-anchor="middle" style="stroke-width:0.15px">Saline</text>
<line x1="272.30" y1="147.90" x2="272.30" y2="151.90" stroke="#0b0910" stroke-width="1.3"/>
<text x="272.30" y="158.80" font-size="5.6" font-weight="bold" text-anchor="middle" style="stroke-width:0.15px">BuOE</text>
<line x1="302.95" y1="147.90" x2="302.95" y2="151.90" stroke="#0b0910" stroke-width="1.3"/>
<text x="302.95" y="158.80" font-size="5.6" font-weight="bold" text-anchor="middle" style="stroke-width:0.15px">Saline</text>
<line x1="321.30" y1="147.90" x2="321.30" y2="151.90" stroke="#0b0910" stroke-width="1.3"/>
<text x="321.30" y="158.80" font-size="5.6" font-weight="bold" text-anchor="middle" style="stroke-width:0.15px">BuOE</text>
<text x="211.50" y="102.20" font-size="7.7" font-weight="bold" text-anchor="middle" transform="rotate(-90 211.5 102.2)">Maximal SERCA activity</text>
<text x="220.50" y="102.20" font-size="7.7" font-weight="bold" text-anchor="middle" transform="rotate(-90 220.5 102.2)">(μmol/g protein/min)</text>
<circle cx="253.90" cy="82.60" r="1.1" fill="#18121f" stroke="none" stroke-width="0.5"/>
<circle cx="248.60" cy="89.20" r="1.1" fill="#18121f" stroke="none" stroke-width="0.5"/>
<circle cx="252.20" cy="88.80" r="1.1" fill="#18121f" stroke="none" stroke-width="0.5"/>
<circle cx="255.60" cy="88.80" r="1.1" fill="#18121f" stroke="none" stroke-width="0.5"/>
<circle cx="259.20" cy="88.80" r="1.1" fill="#18121f" stroke="none" stroke-width="0.5"/>
<circle cx="253.90" cy="111.30" r="1.1" fill="#18121f" stroke="none" stroke-width="0.5"/>
<circle cx="253.90" cy="118.70" r="1.1" fill="#18121f" stroke="none" stroke-width="0.5"/>
<circle cx="253.90" cy="124.60" r="1.1" fill="#18121f" stroke="none" stroke-width="0.5"/>
<circle cx="253.90" cy="126.80" r="1.1" fill="#18121f" stroke="none" stroke-width="0.5"/>
<rect x="269.38" y="71.08" width="1.84" height="1.84" fill="#18121f"/>
<rect x="273.48" y="69.68" width="1.84" height="1.84" fill="#18121f"/>
<rect x="271.38" y="75.68" width="1.84" height="1.84" fill="#18121f"/>
<rect x="269.38" y="96.08" width="1.84" height="1.84" fill="#18121f"/>
<rect x="273.48" y="96.08" width="1.84" height="1.84" fill="#18121f"/>
<rect x="271.38" y="112.28" width="1.84" height="1.84" fill="#18121f"/>
<rect x="269.38" y="118.28" width="1.84" height="1.84" fill="#18121f"/>
<rect x="273.48" y="117.78" width="1.84" height="1.84" fill="#18121f"/>
<rect x="271.38" y="126.38" width="1.84" height="1.84" fill="#18121f"/>
<rect x="271.38" y="129.98" width="1.84" height="1.84" fill="#18121f"/>
<polygon points="303.20,74.25 302.20,76.09 304.20,76.09" fill="#18121f" stroke="none" stroke-width="0.5"/>
<polygon points="303.20,76.75 302.20,78.59 304.20,78.59" fill="#18121f" stroke="none" stroke-width="0.5"/>
<polygon points="303.20,87.25 302.20,89.09 304.20,89.09" fill="#18121f" stroke="none" stroke-width="0.5"/>
<polygon points="303.20,97.85 302.20,99.69 304.20,99.69" fill="#18121f" stroke="none" stroke-width="0.5"/>
<polygon points="303.20,119.25 302.20,121.09 304.20,121.09" fill="#18121f" stroke="none" stroke-width="0.5"/>
<polygon points="321.40,89.15 320.40,90.99 322.40,90.99" fill="#18121f" stroke="none" stroke-width="0.5"/>
<polygon points="321.40,103.45 320.40,105.29 322.40,105.29" fill="#18121f" stroke="none" stroke-width="0.5"/>
<polygon points="321.40,114.05 320.40,115.89 322.40,115.89" fill="#18121f" stroke="none" stroke-width="0.5"/>
<polygon points="321.40,123.55 320.40,125.39 322.40,125.39" fill="#18121f" stroke="none" stroke-width="0.5"/>
<line x1="422.00" y1="85.70" x2="422.00" y2="89.20" stroke="#0b0910" stroke-width="0.8"/>
<line x1="418.80" y1="85.70" x2="425.20" y2="85.70" stroke="#0b0910" stroke-width="0.8"/>
<line x1="418.80" y1="89.20" x2="425.20" y2="89.20" stroke="#0b0910" stroke-width="0.8"/>
<rect x="416.50" y="87.45" width="11.00" height="60.65" fill="#fff" stroke="#0b0910" stroke-width="1.6"/>
<line x1="422.00" y1="85.70" x2="422.00" y2="87.45" stroke="#0b0910" stroke-width="0.8"/>
<line x1="418.80" y1="85.70" x2="425.20" y2="85.70" stroke="#0b0910" stroke-width="0.8"/>
<line x1="440.45" y1="81.30" x2="440.45" y2="85.70" stroke="#0b0910" stroke-width="0.8"/>
<line x1="437.25" y1="81.30" x2="443.65" y2="81.30" stroke="#0b0910" stroke-width="0.8"/>
<line x1="437.25" y1="85.70" x2="443.65" y2="85.70" stroke="#0b0910" stroke-width="0.8"/>
<rect x="434.90" y="83.50" width="11.10" height="64.60" fill="#fff" stroke="#0b0910" stroke-width="1.6"/>
<line x1="440.45" y1="81.30" x2="440.45" y2="83.50" stroke="#0b0910" stroke-width="0.8"/>
<line x1="437.25" y1="81.30" x2="443.65" y2="81.30" stroke="#0b0910" stroke-width="0.8"/>
<line x1="471.10" y1="87.70" x2="471.10" y2="91.10" stroke="#0b0910" stroke-width="0.8"/>
<line x1="467.90" y1="87.70" x2="474.30" y2="87.70" stroke="#0b0910" stroke-width="0.8"/>
<line x1="467.90" y1="91.10" x2="474.30" y2="91.10" stroke="#0b0910" stroke-width="0.8"/>
<rect x="465.80" y="89.40" width="10.60" height="58.70" fill="#4f7fe2" stroke="#0b0910" stroke-width="1.6"/>
<line x1="471.10" y1="87.70" x2="471.10" y2="89.40" stroke="#0b0910" stroke-width="0.8"/>
<line x1="467.90" y1="87.70" x2="474.30" y2="87.70" stroke="#0b0910" stroke-width="0.8"/>
<line x1="489.65" y1="81.00" x2="489.65" y2="86.00" stroke="#0b0910" stroke-width="0.8"/>
<line x1="486.45" y1="81.00" x2="492.85" y2="81.00" stroke="#0b0910" stroke-width="0.8"/>
<line x1="486.45" y1="86.00" x2="492.85" y2="86.00" stroke="#0b0910" stroke-width="0.8"/>
<rect x="484.40" y="83.50" width="10.50" height="64.60" fill="#4f7fe2" stroke="#0b0910" stroke-width="1.6"/>
<line x1="489.65" y1="81.00" x2="489.65" y2="83.50" stroke="#0b0910" stroke-width="0.8"/>
<line x1="486.45" y1="81.00" x2="492.85" y2="81.00" stroke="#0b0910" stroke-width="0.8"/>
<line x1="409.50" y1="55.75" x2="409.50" y2="148.75" stroke="#0b0910" stroke-width="1.3"/>
<line x1="408.85" y1="148.10" x2="501.60" y2="148.10" stroke="#0b0910" stroke-width="1.3"/>
<line x1="405.90" y1="148.10" x2="409.50" y2="148.10" stroke="#0b0910" stroke-width="1.3"/>
<text transform="translate(404.50 150.70) scale(0.96 1)" x="0" y="0" font-size="7.4" font-weight="bold" text-anchor="end">5.0</text>
<line x1="405.90" y1="117.53" x2="409.50" y2="117.53" stroke="#0b0910" stroke-width="1.3"/>
<text transform="translate(404.50 120.13) scale(0.96 1)" x="0" y="0" font-size="7.4" font-weight="bold" text-anchor="end">5.5</text>
<line x1="405.90" y1="86.97" x2="409.50" y2="86.97" stroke="#0b0910" stroke-width="1.3"/>
<text transform="translate(404.50 89.57) scale(0.96 1)" x="0" y="0" font-size="7.4" font-weight="bold" text-anchor="end">6.0</text>
<line x1="405.90" y1="56.40" x2="409.50" y2="56.40" stroke="#0b0910" stroke-width="1.3"/>
<text transform="translate(404.50 59.00) scale(0.96 1)" x="0" y="0" font-size="7.4" font-weight="bold" text-anchor="end">6.5</text>
<line x1="422.00" y1="148.10" x2="422.00" y2="152.10" stroke="#0b0910" stroke-width="1.3"/>
<text x="422.00" y="159.00" font-size="5.6" font-weight="bold" text-anchor="middle" style="stroke-width:0.15px">Saline</text>
<line x1="440.45" y1="148.10" x2="440.45" y2="152.10" stroke="#0b0910" stroke-width="1.3"/>
<text x="440.45" y="159.00" font-size="5.6" font-weight="bold" text-anchor="middle" style="stroke-width:0.15px">BuOE</text>
<line x1="471.10" y1="148.10" x2="471.10" y2="152.10" stroke="#0b0910" stroke-width="1.3"/>
<text x="471.10" y="159.00" font-size="5.6" font-weight="bold" text-anchor="middle" style="stroke-width:0.15px">Saline</text>
<line x1="489.65" y1="148.10" x2="489.65" y2="152.10" stroke="#0b0910" stroke-width="1.3"/>
<text x="489.65" y="159.00" font-size="5.6" font-weight="bold" text-anchor="middle" style="stroke-width:0.15px">BuOE</text>
<text x="413.8" y="52.5" font-size="7.5">BuOE, <tspan font-style="italic">p</tspan> = 0.0323</text>
<text x="388.4" y="102.7" font-size="8.3" font-weight="bold" text-anchor="middle" transform="rotate(-90 388.4 102.7)"><tspan font-style="italic">p</tspan>Ca<tspan font-size="4.8" dy="2.3">50</tspan></text>
<circle cx="418.50" cy="82.60" r="1.1" fill="#18121f" stroke="none" stroke-width="0.5"/>
<circle cx="421.60" cy="81.20" r="1.1" fill="#18121f" stroke="none" stroke-width="0.5"/>
<circle cx="424.70" cy="83.20" r="1.1" fill="#18121f" stroke="none" stroke-width="0.5"/>
<circle cx="426.90" cy="82.90" r="1.1" fill="#18121f" stroke="none" stroke-width="0.5"/>
<circle cx="417.60" cy="85.20" r="1.1" fill="#18121f" stroke="none" stroke-width="0.5"/>
<circle cx="423.30" cy="85.50" r="1.1" fill="#18121f" stroke="none" stroke-width="0.5"/>
<circle cx="425.50" cy="89.20" r="1.1" fill="#18121f" stroke="none" stroke-width="0.5"/>
<circle cx="420.20" cy="91.10" r="1.1" fill="#18121f" stroke="none" stroke-width="0.5"/>
<circle cx="423.00" cy="91.70" r="1.1" fill="#18121f" stroke="none" stroke-width="0.5"/>
<rect x="437.78" y="72.98" width="1.84" height="1.84" fill="#18121f"/>
<rect x="441.08" y="72.48" width="1.84" height="1.84" fill="#18121f"/>
<rect x="435.48" y="79.68" width="1.84" height="1.84" fill="#18121f"/>
<rect x="440.28" y="83.68" width="1.84" height="1.84" fill="#18121f"/>
<rect x="443.58" y="83.98" width="1.84" height="1.84" fill="#18121f"/>
<rect x="436.08" y="87.38" width="1.84" height="1.84" fill="#18121f"/>
<rect x="441.68" y="87.08" width="1.84" height="1.84" fill="#18121f"/>
<rect x="439.18" y="91.88" width="1.84" height="1.84" fill="#18121f"/>
<polygon points="471.00,83.85 470.00,85.69 472.00,85.69" fill="#18121f" stroke="none" stroke-width="0.5"/>
<polygon points="468.00,90.35 467.00,92.19 469.00,92.19" fill="#18121f" stroke="none" stroke-width="0.5"/>
<polygon points="474.00,90.05 473.00,91.89 475.00,91.89" fill="#18121f" stroke="none" stroke-width="0.5"/>
<polygon points="486.50,78.15 485.50,79.99 487.50,79.99" fill="#18121f" stroke="none" stroke-width="0.5"/>
<polygon points="492.50,79.95 491.50,81.79 493.50,81.79" fill="#18121f" stroke="none" stroke-width="0.5"/>
<polygon points="487.50,86.45 486.50,88.29 488.50,88.29" fill="#18121f" stroke="none" stroke-width="0.5"/>
<polygon points="491.50,86.15 490.50,87.99 492.50,87.99" fill="#18121f" stroke="none" stroke-width="0.5"/>
<line x1="587.90" y1="89.10" x2="587.90" y2="99.90" stroke="#0b0910" stroke-width="0.8"/>
<line x1="584.70" y1="89.10" x2="591.10" y2="89.10" stroke="#0b0910" stroke-width="0.8"/>
<line x1="584.70" y1="99.90" x2="591.10" y2="99.90" stroke="#0b0910" stroke-width="0.8"/>
<rect x="582.50" y="94.50" width="10.80" height="54.60" fill="#fff" stroke="#0b0910" stroke-width="1.6"/>
<line x1="587.90" y1="89.10" x2="587.90" y2="94.50" stroke="#0b0910" stroke-width="0.8"/>
<line x1="584.70" y1="89.10" x2="591.10" y2="89.10" stroke="#0b0910" stroke-width="0.8"/>
<line x1="606.40" y1="92.20" x2="606.40" y2="100.20" stroke="#0b0910" stroke-width="0.8"/>
<line x1="603.20" y1="92.20" x2="609.60" y2="92.20" stroke="#0b0910" stroke-width="0.8"/>
<line x1="603.20" y1="100.20" x2="609.60" y2="100.20" stroke="#0b0910" stroke-width="0.8"/>
<rect x="601.00" y="96.20" width="10.80" height="52.90" fill="#fff" stroke="#0b0910" stroke-width="1.6"/>
<line x1="606.40" y1="92.20" x2="606.40" y2="96.20" stroke="#0b0910" stroke-width="0.8"/>
<line x1="603.20" y1="92.20" x2="609.60" y2="92.20" stroke="#0b0910" stroke-width="0.8"/>
<line x1="637.00" y1="106.40" x2="637.00" y2="109.20" stroke="#0b0910" stroke-width="0.8"/>
<line x1="633.80" y1="106.40" x2="640.20" y2="106.40" stroke="#0b0910" stroke-width="0.8"/>
<line x1="633.80" y1="109.20" x2="640.20" y2="109.20" stroke="#0b0910" stroke-width="0.8"/>
<rect x="631.70" y="107.80" width="10.60" height="41.30" fill="#4f7fe2" stroke="#0b0910" stroke-width="1.6"/>
<line x1="637.00" y1="106.40" x2="637.00" y2="107.80" stroke="#0b0910" stroke-width="0.8"/>
<line x1="633.80" y1="106.40" x2="640.20" y2="106.40" stroke="#0b0910" stroke-width="0.8"/>
<line x1="655.65" y1="100.70" x2="655.65" y2="111.50" stroke="#0b0910" stroke-width="0.8"/>
<line x1="652.45" y1="100.70" x2="658.85" y2="100.70" stroke="#0b0910" stroke-width="0.8"/>
<line x1="652.45" y1="111.50" x2="658.85" y2="111.50" stroke="#0b0910" stroke-width="0.8"/>
<rect x="650.30" y="106.10" width="10.70" height="43.00" fill="#4f7fe2" stroke="#0b0910" stroke-width="1.6"/>
<line x1="655.65" y1="100.70" x2="655.65" y2="106.10" stroke="#0b0910" stroke-width="0.8"/>
<line x1="652.45" y1="100.70" x2="658.85" y2="100.70" stroke="#0b0910" stroke-width="0.8"/>
<line x1="575.55" y1="56.05" x2="575.55" y2="149.75" stroke="#0b0910" stroke-width="1.3"/>
<line x1="574.90" y1="149.10" x2="667.80" y2="149.10" stroke="#0b0910" stroke-width="1.3"/>
<line x1="571.95" y1="149.10" x2="575.55" y2="149.10" stroke="#0b0910" stroke-width="1.3"/>
<text transform="translate(570.55 151.70) scale(0.96 1)" x="0" y="0" font-size="7.4" font-weight="bold" text-anchor="end">0.0</text>
<line x1="571.95" y1="126.00" x2="575.55" y2="126.00" stroke="#0b0910" stroke-width="1.3"/>
<text transform="translate(570.55 128.60) scale(0.96 1)" x="0" y="0" font-size="7.4" font-weight="bold" text-anchor="end">0.5</text>
<line x1="571.95" y1="102.90" x2="575.55" y2="102.90" stroke="#0b0910" stroke-width="1.3"/>
<text transform="translate(570.55 105.50) scale(0.96 1)" x="0" y="0" font-size="7.4" font-weight="bold" text-anchor="end">1.0</text>
<line x1="571.95" y1="79.80" x2="575.55" y2="79.80" stroke="#0b0910" stroke-width="1.3"/>
<text transform="translate(570.55 82.40) scale(0.96 1)" x="0" y="0" font-size="7.4" font-weight="bold" text-anchor="end">1.5</text>
<line x1="571.95" y1="56.70" x2="575.55" y2="56.70" stroke="#0b0910" stroke-width="1.3"/>
<text transform="translate(570.55 59.30) scale(0.96 1)" x="0" y="0" font-size="7.4" font-weight="bold" text-anchor="end">2.0</text>
<line x1="587.90" y1="149.10" x2="587.90" y2="153.10" stroke="#0b0910" stroke-width="1.3"/>
<text x="587.90" y="160.00" font-size="5.6" font-weight="bold" text-anchor="middle" style="stroke-width:0.15px">Saline</text>
<line x1="606.40" y1="149.10" x2="606.40" y2="153.10" stroke="#0b0910" stroke-width="1.3"/>
<text x="606.40" y="160.00" font-size="5.6" font-weight="bold" text-anchor="middle" style="stroke-width:0.15px">BuOE</text>
<line x1="637.00" y1="149.10" x2="637.00" y2="153.10" stroke="#0b0910" stroke-width="1.3"/>
<text x="637.00" y="160.00" font-size="5.6" font-weight="bold" text-anchor="middle" style="stroke-width:0.15px">Saline</text>
<line x1="655.65" y1="149.10" x2="655.65" y2="153.10" stroke="#0b0910" stroke-width="1.3"/>
<text x="655.65" y="160.00" font-size="5.6" font-weight="bold" text-anchor="middle" style="stroke-width:0.15px">BuOE</text>
<text x="579.5" y="52.5" font-size="7.5">Flight, <tspan font-style="italic">p</tspan> = 0.0255</text>
<text x="556.40" y="102.50" font-size="7.7" font-weight="bold" text-anchor="middle" transform="rotate(-90 556.4 102.5)">Ionophore Ratio</text>
<circle cx="588.00" cy="71.10" r="1.1" fill="#18121f" stroke="none" stroke-width="0.5"/>
<circle cx="586.30" cy="79.60" r="1.1" fill="#18121f" stroke="none" stroke-width="0.5"/>
<circle cx="589.70" cy="79.30" r="1.1" fill="#18121f" stroke="none" stroke-width="0.5"/>
<circle cx="588.00" cy="94.80" r="1.1" fill="#18121f" stroke="none" stroke-width="0.5"/>
<circle cx="588.00" cy="97.60" r="1.1" fill="#18121f" stroke="none" stroke-width="0.5"/>
<circle cx="588.00" cy="106.10" r="1.1" fill="#18121f" stroke="none" stroke-width="0.5"/>
<circle cx="588.00" cy="109.20" r="1.1" fill="#18121f" stroke="none" stroke-width="0.5"/>
<circle cx="588.00" cy="117.10" r="1.1" fill="#18121f" stroke="none" stroke-width="0.5"/>
<rect x="605.68" y="79.48" width="1.84" height="1.84" fill="#18121f"/>
<rect x="605.68" y="82.08" width="1.84" height="1.84" fill="#18121f"/>
<rect x="605.68" y="85.68" width="1.84" height="1.84" fill="#18121f"/>
<rect x="605.68" y="95.08" width="1.84" height="1.84" fill="#18121f"/>
<rect x="605.68" y="98.58" width="1.84" height="1.84" fill="#18121f"/>
<rect x="605.68" y="103.58" width="1.84" height="1.84" fill="#18121f"/>
<rect x="605.68" y="107.08" width="1.84" height="1.84" fill="#18121f"/>
<rect x="605.68" y="112.48" width="1.84" height="1.84" fill="#18121f"/>
<polygon points="637.10,102.95 636.10,104.79 638.10,104.79" fill="#18121f" stroke="none" stroke-width="0.5"/>
<polygon points="635.10,109.15 634.10,110.99 636.10,110.99" fill="#18121f" stroke="none" stroke-width="0.5"/>
<polygon points="639.10,108.95 638.10,110.79 640.10,110.79" fill="#18121f" stroke="none" stroke-width="0.5"/>
<polygon points="655.50,91.95 654.50,93.79 656.50,93.79" fill="#18121f" stroke="none" stroke-width="0.5"/>
<polygon points="655.50,101.45 654.50,103.29 656.50,103.29" fill="#18121f" stroke="none" stroke-width="0.5"/>
<polygon points="655.50,111.65 654.50,113.49 656.50,113.49" fill="#18121f" stroke="none" stroke-width="0.5"/>
<polygon points="655.50,119.55 654.50,121.39 656.50,121.39" fill="#18121f" stroke="none" stroke-width="0.5"/>
<rect x="376.40" y="190.00" width="28.20" height="16.20" fill="#fff" stroke="#0b0910" stroke-width="1.8"/>
<circle cx="391.40" cy="199.10" r="2.0" fill="#18121f" stroke="none" stroke-width="0.5"/>
<text x="410.00" y="201.30" font-size="8.3" font-weight="normal" text-anchor="start">GCVIV</text>
<rect x="460.85" y="190.00" width="28.20" height="16.20" fill="#4f7fe2" stroke="#0b0910" stroke-width="1.8"/>
<polygon points="475.20,195.70 472.35,200.95 478.05,200.95" fill="#18121f" stroke="none" stroke-width="0.5"/>
<text x="497.60" y="201.30" font-size="8.3" font-weight="normal" text-anchor="start">Flight</text>
<defs><pattern id="hw" width="2.5" height="2.5" patternUnits="userSpaceOnUse" patternTransform="rotate(-45)"><rect width="2.5" height="2.5" fill="#fff"/><rect width="2.5" height="1.45" fill="#0b0910"/></pattern><pattern id="hb" width="2.5" height="2.5" patternUnits="userSpaceOnUse" patternTransform="rotate(-45)"><rect width="2.5" height="2.5" fill="#4f7fe2"/><rect width="2.5" height="1.45" fill="#101d52"/></pattern><pattern id="lw" width="1.3" height="1.3" patternUnits="userSpaceOnUse" patternTransform="rotate(-45)"><rect width="1.3" height="1.3" fill="#fff"/><rect width="1.3" height="0.62" fill="#333"/></pattern><pattern id="lb" width="1.3" height="1.3" patternUnits="userSpaceOnUse" patternTransform="rotate(-45)"><rect width="1.3" height="1.3" fill="#4f7fe2"/><rect width="1.3" height="0.62" fill="#101c50"/></pattern></defs>
<line x1="54.95" y1="363.07" x2="54.95" y2="364.60" stroke="#0b0910" stroke-width="0.9"/>
<line x1="52.35" y1="363.07" x2="57.55" y2="363.07" stroke="#0b0910" stroke-width="0.9"/>
<line x1="52.35" y1="364.60" x2="57.55" y2="364.60" stroke="#0b0910" stroke-width="0.9"/>
<rect x="51.65" y="364.60" width="6.60" height="19.50" fill="#fff" stroke="#18121f" stroke-width="1.3"/>
<line x1="67.35" y1="366.89" x2="67.35" y2="368.42" stroke="#0b0910" stroke-width="0.9"/>
<line x1="64.75" y1="366.89" x2="69.95" y2="366.89" stroke="#0b0910" stroke-width="0.9"/>
<line x1="64.75" y1="368.42" x2="69.95" y2="368.42" stroke="#0b0910" stroke-width="0.9"/>
<rect x="64.05" y="368.42" width="6.60" height="15.68" fill="url(#hw)" stroke="#18121f" stroke-width="1.3"/>
<line x1="79.75" y1="351.60" x2="79.75" y2="356.76" stroke="#0b0910" stroke-width="0.9"/>
<line x1="77.15" y1="351.60" x2="82.35" y2="351.60" stroke="#0b0910" stroke-width="0.9"/>
<line x1="77.15" y1="356.76" x2="82.35" y2="356.76" stroke="#0b0910" stroke-width="0.9"/>
<rect x="76.45" y="356.76" width="6.60" height="27.34" fill="#4f7fe2" stroke="#18121f" stroke-width="1.3"/>
<line x1="92.15" y1="348.35" x2="92.15" y2="355.99" stroke="#0b0910" stroke-width="0.9"/>
<line x1="89.55" y1="348.35" x2="94.75" y2="348.35" stroke="#0b0910" stroke-width="0.9"/>
<line x1="89.55" y1="355.99" x2="94.75" y2="355.99" stroke="#0b0910" stroke-width="0.9"/>
<rect x="88.85" y="355.99" width="6.60" height="28.11" fill="url(#hb)" stroke="#18121f" stroke-width="1.3"/>
<line x1="112.05" y1="358.29" x2="112.05" y2="364.98" stroke="#0b0910" stroke-width="0.9"/>
<line x1="109.45" y1="358.29" x2="114.65" y2="358.29" stroke="#0b0910" stroke-width="0.9"/>
<line x1="109.45" y1="364.98" x2="114.65" y2="364.98" stroke="#0b0910" stroke-width="0.9"/>
<rect x="108.75" y="364.98" width="6.60" height="19.12" fill="#fff" stroke="#18121f" stroke-width="1.3"/>
<line x1="124.45" y1="351.98" x2="124.45" y2="359.24" stroke="#0b0910" stroke-width="0.9"/>
<line x1="121.85" y1="351.98" x2="127.05" y2="351.98" stroke="#0b0910" stroke-width="0.9"/>
<line x1="121.85" y1="359.24" x2="127.05" y2="359.24" stroke="#0b0910" stroke-width="0.9"/>
<rect x="121.15" y="359.24" width="6.60" height="24.86" fill="url(#hw)" stroke="#18121f" stroke-width="1.3"/>
<rect x="133.55" y="336.30" width="6.60" height="47.80" fill="#4f7fe2"/>
<polyline points="133.55,336.30 133.55,384.10 140.15,384.10 140.15,336.30" fill="none" stroke="#0b0910" stroke-width="1.3"/>
<line x1="136.85" y1="322.69" x2="136.85" y2="326.82" stroke="#0b0910" stroke-width="0.9"/>
<line x1="134.25" y1="322.69" x2="139.45" y2="322.69" stroke="#0b0910" stroke-width="0.9"/>
<line x1="134.25" y1="326.82" x2="139.45" y2="326.82" stroke="#0b0910" stroke-width="0.9"/>
<rect x="133.55" y="326.82" width="6.60" height="0.98" fill="#4f7fe2"/>
<polyline points="133.55,327.80 133.55,326.82 140.15,326.82 140.15,327.80" fill="none" stroke="#0b0910" stroke-width="1.3"/>
<rect x="145.95" y="336.30" width="6.60" height="47.80" fill="url(#hb)"/>
<polyline points="145.95,336.30 145.95,384.10 152.55,384.10 152.55,336.30" fill="none" stroke="#0b0910" stroke-width="1.3"/>
<line x1="149.25" y1="312.30" x2="149.25" y2="320.00" stroke="#0b0910" stroke-width="0.9"/>
<line x1="146.65" y1="312.30" x2="151.85" y2="312.30" stroke="#0b0910" stroke-width="0.9"/>
<line x1="146.65" y1="320.00" x2="151.85" y2="320.00" stroke="#0b0910" stroke-width="0.9"/>
<rect x="145.95" y="320.00" width="6.60" height="7.80" fill="url(#hb)"/>
<polyline points="145.95,327.80 145.95,320.00 152.55,320.00 152.55,327.80" fill="none" stroke="#0b0910" stroke-width="1.3"/>
<line x1="170.15" y1="363.26" x2="170.15" y2="365.55" stroke="#0b0910" stroke-width="0.9"/>
<line x1="167.55" y1="363.26" x2="172.75" y2="363.26" stroke="#0b0910" stroke-width="0.9"/>
<line x1="167.55" y1="365.55" x2="172.75" y2="365.55" stroke="#0b0910" stroke-width="0.9"/>
<rect x="166.85" y="365.55" width="6.60" height="18.55" fill="#fff" stroke="#18121f" stroke-width="1.3"/>
<line x1="182.55" y1="371.67" x2="182.55" y2="373.97" stroke="#0b0910" stroke-width="0.9"/>
<line x1="179.95" y1="371.67" x2="185.15" y2="371.67" stroke="#0b0910" stroke-width="0.9"/>
<line x1="179.95" y1="373.97" x2="185.15" y2="373.97" stroke="#0b0910" stroke-width="0.9"/>
<rect x="179.25" y="373.97" width="6.60" height="10.13" fill="url(#hw)" stroke="#18121f" stroke-width="1.3"/>
<line x1="194.95" y1="347.58" x2="194.95" y2="357.52" stroke="#0b0910" stroke-width="0.9"/>
<line x1="192.35" y1="347.58" x2="197.55" y2="347.58" stroke="#0b0910" stroke-width="0.9"/>
<line x1="192.35" y1="357.52" x2="197.55" y2="357.52" stroke="#0b0910" stroke-width="0.9"/>
<rect x="191.65" y="357.52" width="6.60" height="26.58" fill="#4f7fe2" stroke="#18121f" stroke-width="1.3"/>
<line x1="207.35" y1="355.61" x2="207.35" y2="365.55" stroke="#0b0910" stroke-width="0.9"/>
<line x1="204.75" y1="355.61" x2="209.95" y2="355.61" stroke="#0b0910" stroke-width="0.9"/>
<line x1="204.75" y1="365.55" x2="209.95" y2="365.55" stroke="#0b0910" stroke-width="0.9"/>
<rect x="204.05" y="365.55" width="6.60" height="18.55" fill="url(#hb)" stroke="#18121f" stroke-width="1.3"/>
<line x1="227.05" y1="361.54" x2="227.05" y2="363.07" stroke="#0b0910" stroke-width="0.9"/>
<line x1="224.45" y1="361.54" x2="229.65" y2="361.54" stroke="#0b0910" stroke-width="0.9"/>
<line x1="224.45" y1="363.07" x2="229.65" y2="363.07" stroke="#0b0910" stroke-width="0.9"/>
<rect x="223.75" y="363.07" width="6.60" height="21.03" fill="#fff" stroke="#18121f" stroke-width="1.3"/>
<line x1="239.45" y1="366.51" x2="239.45" y2="368.42" stroke="#0b0910" stroke-width="0.9"/>
<line x1="236.85" y1="366.51" x2="242.05" y2="366.51" stroke="#0b0910" stroke-width="0.9"/>
<line x1="236.85" y1="368.42" x2="242.05" y2="368.42" stroke="#0b0910" stroke-width="0.9"/>
<rect x="236.15" y="368.42" width="6.60" height="15.68" fill="url(#hw)" stroke="#18121f" stroke-width="1.3"/>
<line x1="251.85" y1="348.73" x2="251.85" y2="357.33" stroke="#0b0910" stroke-width="0.9"/>
<line x1="249.25" y1="348.73" x2="254.45" y2="348.73" stroke="#0b0910" stroke-width="0.9"/>
<line x1="249.25" y1="357.33" x2="254.45" y2="357.33" stroke="#0b0910" stroke-width="0.9"/>
<rect x="248.55" y="357.33" width="6.60" height="26.77" fill="#4f7fe2" stroke="#18121f" stroke-width="1.3"/>
<line x1="264.25" y1="344.14" x2="264.25" y2="357.52" stroke="#0b0910" stroke-width="0.9"/>
<line x1="261.65" y1="344.14" x2="266.85" y2="344.14" stroke="#0b0910" stroke-width="0.9"/>
<line x1="261.65" y1="357.52" x2="266.85" y2="357.52" stroke="#0b0910" stroke-width="0.9"/>
<rect x="260.95" y="357.52" width="6.60" height="26.58" fill="url(#hb)" stroke="#18121f" stroke-width="1.3"/>
<line x1="46.40" y1="335.65" x2="46.40" y2="384.80" stroke="#0b0910" stroke-width="1.3"/>
<line x1="46.40" y1="279.15" x2="46.40" y2="327.85" stroke="#0b0910" stroke-width="1.3"/>
<line x1="45.75" y1="384.10" x2="272.40" y2="384.10" stroke="#0b0910" stroke-width="1.4"/>
<line x1="41.40" y1="384.10" x2="46.40" y2="384.10" stroke="#0b0910" stroke-width="1.3"/>
<text x="39.40" y="386.90" font-size="7.8" font-weight="bold" text-anchor="end">0.0</text>
<line x1="41.40" y1="374.54" x2="46.40" y2="374.54" stroke="#0b0910" stroke-width="1.3"/>
<text x="39.40" y="377.34" font-size="7.8" font-weight="bold" text-anchor="end">0.5</text>
<line x1="41.40" y1="364.98" x2="46.40" y2="364.98" stroke="#0b0910" stroke-width="1.3"/>
<text x="39.40" y="367.78" font-size="7.8" font-weight="bold" text-anchor="end">1.0</text>
<line x1="41.40" y1="355.42" x2="46.40" y2="355.42" stroke="#0b0910" stroke-width="1.3"/>
<text x="39.40" y="358.22" font-size="7.8" font-weight="bold" text-anchor="end">1.5</text>
<line x1="41.40" y1="345.86" x2="46.40" y2="345.86" stroke="#0b0910" stroke-width="1.3"/>
<text x="39.40" y="348.66" font-size="7.8" font-weight="bold" text-anchor="end">2.0</text>
<text x="39.40" y="339.10" font-size="7.8" font-weight="bold" text-anchor="end">2.5</text>
<line x1="43.00" y1="336.30" x2="49.80" y2="336.30" stroke="#0b0910" stroke-width="1.3"/>
<line x1="43.00" y1="327.20" x2="49.80" y2="327.20" stroke="#0b0910" stroke-width="1.3"/>
<line x1="38.40" y1="317.72" x2="46.40" y2="317.72" stroke="#0b0910" stroke-width="1.3"/>
<text x="37.20" y="320.52" font-size="7.8" font-weight="bold" text-anchor="end">5</text>
<line x1="38.40" y1="298.76" x2="46.40" y2="298.76" stroke="#0b0910" stroke-width="1.3"/>
<text x="37.20" y="301.56" font-size="7.8" font-weight="bold" text-anchor="end">10</text>
<line x1="38.40" y1="279.80" x2="46.40" y2="279.80" stroke="#0b0910" stroke-width="1.3"/>
<text x="37.20" y="282.60" font-size="7.8" font-weight="bold" text-anchor="end">15</text>
<text x="8.30" y="332.00" font-size="8.4" font-weight="bold" text-anchor="middle" transform="rotate(-90 8.3 332)">Protein Content</text>
<text x="18.80" y="332.00" font-size="8.4" font-weight="bold" text-anchor="middle" transform="rotate(-90 18.8 332)">(Relative to GC/VIV Saline)</text>
<line x1="73.30" y1="384.10" x2="73.30" y2="389.30" stroke="#0b0910" stroke-width="1.3"/>
<text x="73.30" y="398.10" font-size="7.9" font-weight="bold" text-anchor="middle">SERCA1a</text>
<line x1="130.50" y1="384.10" x2="130.50" y2="389.30" stroke="#0b0910" stroke-width="1.3"/>
<text x="130.50" y="398.10" font-size="7.9" font-weight="bold" text-anchor="middle">SERCA2a</text>
<line x1="187.90" y1="384.10" x2="187.90" y2="389.30" stroke="#0b0910" stroke-width="1.3"/>
<text x="187.90" y="398.10" font-size="7.9" font-weight="bold" text-anchor="middle">RYR</text>
<line x1="245.70" y1="384.10" x2="245.70" y2="389.30" stroke="#0b0910" stroke-width="1.3"/>
<text x="245.70" y="398.10" font-size="7.9" font-weight="bold" text-anchor="middle">p-RYR</text>
<polyline points="61.00,351.40 61.00,326.50 85.40,326.50 85.40,335.80" fill="none" stroke="#18121f" stroke-width="1.2"/>
<line x1="56.90" y1="351.40" x2="65.10" y2="351.40" stroke="#0b0910" stroke-width="1.2"/>
<line x1="81.30" y1="335.80" x2="89.50" y2="335.80" stroke="#0b0910" stroke-width="1.2"/>
<text x="73.20" y="322.20" font-size="6.4" font-weight="normal" text-anchor="middle" style="stroke-width:0.05px;fill:#121016">0.0039</text>
<polyline points="118.30,315.50 118.30,276.60 143.10,276.60 143.10,284.50" fill="none" stroke="#18121f" stroke-width="1.2"/>
<line x1="114.20" y1="315.50" x2="122.40" y2="315.50" stroke="#0b0910" stroke-width="1.2"/>
<line x1="139.00" y1="284.50" x2="147.20" y2="284.50" stroke="#0b0910" stroke-width="1.2"/>
<text x="130.70" y="271.60" font-size="6.4" font-weight="normal" text-anchor="middle" style="stroke-width:0.05px;fill:#121016">0.0107</text>
<polyline points="233.50,350.60 233.50,309.70 257.50,309.70 257.50,316.10" fill="none" stroke="#18121f" stroke-width="1.2"/>
<line x1="229.40" y1="350.60" x2="237.60" y2="350.60" stroke="#0b0910" stroke-width="1.2"/>
<line x1="253.40" y1="316.10" x2="261.60" y2="316.10" stroke="#0b0910" stroke-width="1.2"/>
<text x="245.50" y="305.30" font-size="6.4" font-weight="normal" text-anchor="middle" style="stroke-width:0.05px;fill:#121016">0.0905</text>
<circle cx="52.60" cy="360.50" r="1.2" fill="#18121f" stroke="none" stroke-width="0.5"/>
<circle cx="55.50" cy="358.80" r="1.2" fill="#18121f" stroke="none" stroke-width="0.5"/>
<circle cx="57.60" cy="361.10" r="1.2" fill="#18121f" stroke="none" stroke-width="0.5"/>
<circle cx="53.50" cy="363.20" r="1.2" fill="#18121f" stroke="none" stroke-width="0.5"/>
<circle cx="56.40" cy="363.80" r="1.2" fill="#18121f" stroke="none" stroke-width="0.5"/>
<rect x="63.50" y="362.20" width="2.0" height="2.0" fill="#18121f"/>
<rect x="67.90" y="363.40" width="2.0" height="2.0" fill="#18121f"/>
<rect x="65.70" y="365.70" width="2.0" height="2.0" fill="#18121f"/>
<rect x="64.40" y="366.60" width="2.0" height="2.0" fill="#18121f"/>
<rect x="67.30" y="367.20" width="2.0" height="2.0" fill="#18121f"/>
<polygon points="79.50,346.45 78.31,348.64 80.69,348.64" fill="#18121f" stroke="none" stroke-width="0.5"/>
<polygon points="78.50,350.25 77.31,352.44 79.69,352.44" fill="#18121f" stroke="none" stroke-width="0.5"/>
<polygon points="80.60,352.25 79.41,354.44 81.79,354.44" fill="#18121f" stroke="none" stroke-width="0.5"/>
<polygon points="79.50,373.35 78.31,375.54 80.69,375.54" fill="#18121f" stroke="none" stroke-width="0.5"/>
<polygon points="91.80,341.15 90.61,343.34 92.99,343.34" fill="#18121f" stroke="none" stroke-width="0.5"/>
<polygon points="91.80,344.95 90.61,347.14 92.99,347.14" fill="#18121f" stroke="none" stroke-width="0.5"/>
<polygon points="91.80,348.75 90.61,350.94 92.99,350.94" fill="#18121f" stroke="none" stroke-width="0.5"/>
<polygon points="91.80,374.25 90.61,376.44 92.99,376.44" fill="#18121f" stroke="none" stroke-width="0.5"/>
<circle cx="111.70" cy="326.40" r="1.2" fill="#18121f" stroke="none" stroke-width="0.5"/>
<circle cx="111.40" cy="348.80" r="1.2" fill="#18121f" stroke="none" stroke-width="0.5"/>
<circle cx="113.40" cy="349.10" r="1.2" fill="#18121f" stroke="none" stroke-width="0.5"/>
<circle cx="112.80" cy="370.50" r="1.2" fill="#18121f" stroke="none" stroke-width="0.5"/>
<circle cx="112.80" cy="376.40" r="1.2" fill="#18121f" stroke="none" stroke-width="0.5"/>
<rect x="123.30" y="325.10" width="2.0" height="2.0" fill="#18121f"/>
<rect x="121.20" y="342.90" width="2.0" height="2.0" fill="#18121f"/>
<rect x="125.90" y="341.70" width="2.0" height="2.0" fill="#18121f"/>
<rect x="123.50" y="349.00" width="2.0" height="2.0" fill="#18121f"/>
<rect x="124.10" y="371.00" width="2.0" height="2.0" fill="#18121f"/>
<polygon points="136.60,312.65 135.41,314.84 137.79,314.84" fill="#18121f" stroke="none" stroke-width="0.5"/>
<polygon points="136.60,319.15 135.41,321.34 137.79,321.34" fill="#18121f" stroke="none" stroke-width="0.5"/>
<polygon points="136.60,360.75 135.41,362.94 137.79,362.94" fill="#18121f" stroke="none" stroke-width="0.5"/>
<polygon points="136.60,379.45 135.41,381.64 137.79,381.64" fill="#18121f" stroke="none" stroke-width="0.5"/>
<polygon points="149.10,289.35 147.91,291.54 150.29,291.54" fill="#18121f" stroke="none" stroke-width="0.5"/>
<polygon points="149.10,337.05 147.91,339.24 150.29,339.24" fill="#18121f" stroke="none" stroke-width="0.5"/>
<polygon points="149.10,360.75 147.91,362.94 150.29,362.94" fill="#18121f" stroke="none" stroke-width="0.5"/>
<polygon points="149.10,379.45 147.91,381.64 150.29,381.64" fill="#18121f" stroke="none" stroke-width="0.5"/>
<circle cx="168.30" cy="359.70" r="1.2" fill="#18121f" stroke="none" stroke-width="0.5"/>
<circle cx="170.60" cy="361.10" r="1.2" fill="#18121f" stroke="none" stroke-width="0.5"/>
<circle cx="172.90" cy="360.20" r="1.2" fill="#18121f" stroke="none" stroke-width="0.5"/>
<circle cx="169.50" cy="363.50" r="1.2" fill="#18121f" stroke="none" stroke-width="0.5"/>
<circle cx="172.10" cy="364.10" r="1.2" fill="#18121f" stroke="none" stroke-width="0.5"/>
<rect x="179.00" y="364.20" width="2.0" height="2.0" fill="#18121f"/>
<rect x="182.20" y="362.20" width="2.0" height="2.0" fill="#18121f"/>
<rect x="184.80" y="363.90" width="2.0" height="2.0" fill="#18121f"/>
<rect x="180.20" y="368.00" width="2.0" height="2.0" fill="#18121f"/>
<rect x="183.10" y="366.90" width="2.0" height="2.0" fill="#18121f"/>
<rect x="181.40" y="371.80" width="2.0" height="2.0" fill="#18121f"/>
<rect x="179.60" y="376.20" width="2.0" height="2.0" fill="#18121f"/>
<rect x="183.10" y="377.10" width="2.0" height="2.0" fill="#18121f"/>
<polygon points="194.60,323.35 193.41,325.54 195.79,325.54" fill="#18121f" stroke="none" stroke-width="0.5"/>
<polygon points="194.60,364.85 193.41,367.04 195.79,367.04" fill="#18121f" stroke="none" stroke-width="0.5"/>
<polygon points="194.60,369.25 193.41,371.44 195.79,371.44" fill="#18121f" stroke="none" stroke-width="0.5"/>
<polygon points="194.60,372.75 193.41,374.94 195.79,374.94" fill="#18121f" stroke="none" stroke-width="0.5"/>
<polygon points="206.90,325.45 205.71,327.64 208.09,327.64" fill="#18121f" stroke="none" stroke-width="0.5"/>
<polygon points="206.90,370.75 205.71,372.94 208.09,372.94" fill="#18121f" stroke="none" stroke-width="0.5"/>
<polygon points="206.90,374.75 205.71,376.94 208.09,376.94" fill="#18121f" stroke="none" stroke-width="0.5"/>
<circle cx="225.30" cy="361.70" r="1.2" fill="#18121f" stroke="none" stroke-width="0.5"/>
<circle cx="227.60" cy="360.80" r="1.2" fill="#18121f" stroke="none" stroke-width="0.5"/>
<circle cx="229.70" cy="361.70" r="1.2" fill="#18121f" stroke="none" stroke-width="0.5"/>
<circle cx="226.20" cy="364.10" r="1.2" fill="#18121f" stroke="none" stroke-width="0.5"/>
<circle cx="228.80" cy="364.10" r="1.2" fill="#18121f" stroke="none" stroke-width="0.5"/>
<circle cx="227.60" cy="366.00" r="1.2" fill="#18121f" stroke="none" stroke-width="0.5"/>
<rect x="236.30" y="362.20" width="2.0" height="2.0" fill="#18121f"/>
<rect x="238.70" y="361.60" width="2.0" height="2.0" fill="#18121f"/>
<rect x="241.00" y="360.70" width="2.0" height="2.0" fill="#18121f"/>
<rect x="237.20" y="364.50" width="2.0" height="2.0" fill="#18121f"/>
<rect x="240.10" y="364.80" width="2.0" height="2.0" fill="#18121f"/>
<rect x="238.40" y="367.20" width="2.0" height="2.0" fill="#18121f"/>
<rect x="237.20" y="376.50" width="2.0" height="2.0" fill="#18121f"/>
<rect x="239.90" y="377.10" width="2.0" height="2.0" fill="#18121f"/>
<polygon points="248.80,337.95 247.61,340.14 249.99,340.14" fill="#18121f" stroke="none" stroke-width="0.5"/>
<polygon points="254.60,339.75 253.41,341.94 255.79,341.94" fill="#18121f" stroke="none" stroke-width="0.5"/>
<polygon points="251.70,364.75 250.51,366.94 252.89,366.94" fill="#18121f" stroke="none" stroke-width="0.5"/>
<polygon points="251.70,369.75 250.51,371.94 252.89,371.94" fill="#18121f" stroke="none" stroke-width="0.5"/>
<polygon points="251.70,378.75 250.51,380.94 252.89,380.94" fill="#18121f" stroke="none" stroke-width="0.5"/>
<polygon points="264.10,321.25 262.91,323.44 265.29,323.44" fill="#18121f" stroke="none" stroke-width="0.5"/>
<polygon points="264.10,364.75 262.91,366.94 265.29,366.94" fill="#18121f" stroke="none" stroke-width="0.5"/>
<polygon points="264.10,369.75 262.91,371.94 265.29,371.94" fill="#18121f" stroke="none" stroke-width="0.5"/>
<polygon points="264.10,378.75 262.91,380.94 265.29,380.94" fill="#18121f" stroke="none" stroke-width="0.5"/>
<rect x="59.90" y="426.90" width="28.20" height="16.40" fill="#fff" stroke="#0b0910" stroke-width="1.8"/>
<circle cx="74.60" cy="436.10" r="2.0" fill="#18121f" stroke="none" stroke-width="0.5"/>
<text x="93.30" y="438.30" font-size="8.35" font-weight="normal" text-anchor="start">GCVIV Saline</text>
<rect x="155.50" y="426.90" width="28.00" height="16.40" fill="#4f7fe2" stroke="#0b0910" stroke-width="1.8"/>
<polygon points="169.60,432.80 166.75,438.05 172.45,438.05" fill="#18121f" stroke="none" stroke-width="0.5"/>
<text x="190.90" y="438.30" font-size="8.35" font-weight="normal" text-anchor="start">Flight Saline</text>
<rect x="59.90" y="462.00" width="28.20" height="18.00" fill="url(#lw)" stroke="#0b0910" stroke-width="1.8"/>
<circle cx="74.60" cy="471.00" r="2.0" fill="#18121f" stroke="none" stroke-width="0.5"/>
<text x="93.30" y="472.90" font-size="8.35" font-weight="normal" text-anchor="start">GCVIV BuOE</text>
<rect x="155.50" y="462.00" width="28.00" height="18.00" fill="url(#lb)" stroke="#0b0910" stroke-width="1.8"/>
<polygon points="169.20,467.40 166.35,472.65 172.05,472.65" fill="#18121f" stroke="none" stroke-width="0.5"/>
<text x="190.90" y="472.90" font-size="8.35" font-weight="normal" text-anchor="start">Flight BuOE</text>
<defs><filter id="b1" x="-50%" y="-50%" width="200%" height="200%"><feGaussianBlur stdDeviation="0.8"/></filter><filter id="b2" x="-50%" y="-50%" width="200%" height="200%"><feGaussianBlur stdDeviation="1.5"/></filter><filter id="b3" x="-50%" y="-50%" width="200%" height="200%"><feGaussianBlur stdDeviation="0.7"/></filter><filter id="b5" x="-50%" y="-50%" width="200%" height="200%"><feGaussianBlur stdDeviation="1.3"/></filter><filter id="b6" x="-50%" y="-50%" width="200%" height="200%"><feGaussianBlur stdDeviation="0.9"/></filter><filter id="b4" x="-50%" y="-80%" width="200%" height="260%"><feGaussianBlur stdDeviation="2.2"/></filter></defs>
<line x1="344.10" y1="248.00" x2="375.40" y2="248.00" stroke="#0b0910" stroke-width="2.2"/>
<text x="360.05" y="245.40" font-size="9.0" font-weight="normal" text-anchor="middle" style="stroke-width:0.15px">GC</text>
<line x1="380.80" y1="248.00" x2="412.10" y2="248.00" stroke="#0b0910" stroke-width="2.2"/>
<text x="396.75" y="245.40" font-size="8.9" font-weight="normal" text-anchor="middle" style="stroke-width:0.15px">VIV</text>
<line x1="417.50" y1="248.00" x2="448.80" y2="248.00" stroke="#0b0910" stroke-width="2.2"/>
<text x="433.45" y="245.40" font-size="8.9" font-weight="normal" text-anchor="middle" style="stroke-width:0.15px">Flight</text>
<text x="349.90" y="270.00" font-size="6.8" font-weight="normal" text-anchor="start" transform="rotate(-45 349.90000000000003 270.0)" style="stroke-width:0.15px">Saline</text>
<text x="368.30" y="270.00" font-size="6.8" font-weight="normal" text-anchor="start" transform="rotate(-45 368.3 270.0)" style="stroke-width:0.15px">BuOE</text>
<text x="386.70" y="270.00" font-size="6.8" font-weight="normal" text-anchor="start" transform="rotate(-45 386.70000000000005 270.0)" style="stroke-width:0.15px">Saline</text>
<text x="405.10" y="270.00" font-size="6.8" font-weight="normal" text-anchor="start" transform="rotate(-45 405.1 270.0)" style="stroke-width:0.15px">BuOE</text>
<text x="423.50" y="270.00" font-size="6.8" font-weight="normal" text-anchor="start" transform="rotate(-45 423.5 270.0)" style="stroke-width:0.15px">Saline</text>
<text x="441.90" y="270.00" font-size="6.8" font-weight="normal" text-anchor="start" transform="rotate(-45 441.90000000000003 270.0)" style="stroke-width:0.15px">BuOE</text>
<clipPath id="c339_0"><rect x="339.95" y="271.95" width="112.10000000000002" height="28.80000000000001"/></clipPath>
<g clip-path="url(#c339_0)">
<rect x="339.95" y="271.95" width="112.10" height="28.80" fill="#ececec" stroke="none" stroke-width="0"/>
<rect x="345.40" y="285.30" width="11.00" height="7" fill="#000" opacity="0.1" filter="url(#b4)"/>
<rect x="345.40" y="282.60" width="11.00" height="5.40" rx="2.20" fill="#000" opacity="0.6" filter="url(#b1)"/>
<rect x="363.90" y="285.70" width="10.40" height="7" fill="#000" opacity="0.06" filter="url(#b4)"/>
<rect x="363.90" y="283.20" width="10.40" height="5.00" rx="2.20" fill="#000" opacity="0.2" filter="url(#b1)"/>
<rect x="382.10" y="285.90" width="11.00" height="7" fill="#000" opacity="0.08" filter="url(#b4)"/>
<rect x="382.10" y="283.30" width="11.00" height="5.20" rx="2.20" fill="#000" opacity="0.6" filter="url(#b1)"/>
<rect x="400.60" y="286.20" width="10.40" height="7" fill="#000" opacity="0.06" filter="url(#b4)"/>
<rect x="400.60" y="283.70" width="10.40" height="5.00" rx="2.20" fill="#000" opacity="0.28" filter="url(#b1)"/>
<rect x="418.30" y="286.60" width="11.40" height="7" fill="#000" opacity="0.12" filter="url(#b4)"/>
<rect x="418.30" y="283.70" width="11.40" height="5.80" rx="2.20" fill="#000" opacity="0.88" filter="url(#b1)"/>
<rect x="435.90" y="287.20" width="11.00" height="7" fill="#000" opacity="0.12" filter="url(#b4)"/>
<rect x="435.90" y="284.30" width="11.00" height="5.80" rx="2.20" fill="#000" opacity="0.86" filter="url(#b1)"/>
</g>
<rect x="339.95" y="271.95" width="112.10" height="28.80" fill="none" stroke="#0d0a12" stroke-width="1.6"/>
<clipPath id="c339_1"><rect x="339.95" y="306.05" width="112.10000000000002" height="28.80000000000001"/></clipPath>
<g clip-path="url(#c339_1)">
<rect x="339.95" y="306.05" width="112.10" height="28.80" fill="#cecece" stroke="none" stroke-width="0"/>
<rect x="347.15" y="322.20" width="7.50" height="9" fill="#000" opacity="0.15" filter="url(#b4)"/>
<rect x="347.15" y="319.70" width="7.50" height="5.00" rx="2.20" fill="#000" opacity="0.85" filter="url(#b1)"/>
<rect x="363.05" y="322.20" width="9.50" height="9" fill="#000" opacity="0.2" filter="url(#b4)"/>
<rect x="363.05" y="318.95" width="9.50" height="6.50" rx="2.20" fill="#000" opacity="1.0" filter="url(#b2)"/>
<rect x="382.75" y="321.80" width="8.50" height="9" fill="#000" opacity="0.05" filter="url(#b4)"/>
<rect x="382.75" y="319.80" width="8.50" height="4.00" rx="2.00" fill="#000" opacity="0.18" filter="url(#b1)"/>
<rect x="399.65" y="322.20" width="9.50" height="9" fill="#000" opacity="0.08" filter="url(#b4)"/>
<rect x="399.65" y="320.10" width="9.50" height="4.20" rx="2.10" fill="#000" opacity="0.45" filter="url(#b1)"/>
<rect x="416.85" y="321.00" width="11.50" height="9" fill="#000" opacity="0.3" filter="url(#b4)"/>
<rect x="416.85" y="317.00" width="11.50" height="8.00" rx="2.20" fill="#000" opacity="1.0" filter="url(#b2)"/>
<rect x="434.30" y="321.30" width="13.00" height="9" fill="#000" opacity="0.35" filter="url(#b4)"/>
<rect x="434.30" y="316.30" width="13.00" height="10.00" rx="2.20" fill="#000" opacity="1.0" filter="url(#b2)"/>
</g>
<rect x="339.95" y="306.05" width="112.10" height="28.80" fill="none" stroke="#0d0a12" stroke-width="1.6"/>
<clipPath id="c339_2"><rect x="339.95" y="340.75" width="112.10000000000002" height="42.60000000000002"/></clipPath>
<g clip-path="url(#c339_2)">
<rect x="339.95" y="340.75" width="112.10" height="42.60" fill="#d6d6d6" stroke="none" stroke-width="0"/>
<rect x="342.60" y="337.75" width="13.2" height="48.60000000000002" fill="#a8a8a8" opacity="0.5" filter="url(#b5)"/>
<rect x="342.90" y="343.5" width="12.6" height="1.6" fill="#666" opacity="0.16" filter="url(#b3)"/>
<rect x="342.90" y="346.8" width="12.6" height="1.6" fill="#666" opacity="0.1" filter="url(#b3)"/>
<rect x="342.90" y="350.2" width="12.6" height="1.6" fill="#666" opacity="0.14" filter="url(#b3)"/>
<rect x="342.90" y="364.8" width="12.6" height="1.6" fill="#666" opacity="0.1" filter="url(#b3)"/>
<rect x="342.90" y="368.5" width="12.6" height="1.6" fill="#666" opacity="0.16" filter="url(#b3)"/>
<rect x="342.90" y="372.0" width="12.6" height="1.6" fill="#666" opacity="0.14" filter="url(#b3)"/>
<rect x="342.90" y="375.5" width="12.6" height="1.6" fill="#666" opacity="0.12" filter="url(#b3)"/>
<rect x="342.90" y="379" width="12.6" height="1.6" fill="#666" opacity="0.1" filter="url(#b3)"/>
<rect x="341.90" y="354.70" width="14.6" height="5.2" rx="2.4" fill="#484848" opacity="0.88" filter="url(#b6)"/>
<rect x="360.00" y="337.75" width="13.2" height="48.60000000000002" fill="#a8a8a8" opacity="0.5" filter="url(#b5)"/>
<rect x="360.30" y="343.5" width="12.6" height="1.6" fill="#666" opacity="0.16" filter="url(#b3)"/>
<rect x="360.30" y="346.8" width="12.6" height="1.6" fill="#666" opacity="0.1" filter="url(#b3)"/>
<rect x="360.30" y="350.2" width="12.6" height="1.6" fill="#666" opacity="0.14" filter="url(#b3)"/>
<rect x="360.30" y="364.8" width="12.6" height="1.6" fill="#666" opacity="0.1" filter="url(#b3)"/>
<rect x="360.30" y="368.5" width="12.6" height="1.6" fill="#666" opacity="0.16" filter="url(#b3)"/>
<rect x="360.30" y="372.0" width="12.6" height="1.6" fill="#666" opacity="0.14" filter="url(#b3)"/>
<rect x="360.30" y="375.5" width="12.6" height="1.6" fill="#666" opacity="0.12" filter="url(#b3)"/>
<rect x="360.30" y="379" width="12.6" height="1.6" fill="#666" opacity="0.1" filter="url(#b3)"/>
<rect x="359.30" y="354.70" width="14.6" height="5.2" rx="2.4" fill="#484848" opacity="0.88" filter="url(#b6)"/>
<rect x="377.80" y="337.75" width="13.2" height="48.60000000000002" fill="#a8a8a8" opacity="0.5" filter="url(#b5)"/>
<rect x="378.10" y="343.5" width="12.6" height="1.6" fill="#666" opacity="0.16" filter="url(#b3)"/>
<rect x="378.10" y="346.8" width="12.6" height="1.6" fill="#666" opacity="0.1" filter="url(#b3)"/>
<rect x="378.10" y="350.2" width="12.6" height="1.6" fill="#666" opacity="0.14" filter="url(#b3)"/>
<rect x="378.10" y="364.8" width="12.6" height="1.6" fill="#666" opacity="0.1" filter="url(#b3)"/>
<rect x="378.10" y="368.5" width="12.6" height="1.6" fill="#666" opacity="0.16" filter="url(#b3)"/>
<rect x="378.10" y="372.0" width="12.6" height="1.6" fill="#666" opacity="0.14" filter="url(#b3)"/>
<rect x="378.10" y="375.5" width="12.6" height="1.6" fill="#666" opacity="0.12" filter="url(#b3)"/>
<rect x="378.10" y="379" width="12.6" height="1.6" fill="#666" opacity="0.1" filter="url(#b3)"/>
<rect x="377.10" y="354.70" width="14.6" height="5.2" rx="2.4" fill="#484848" opacity="0.88" filter="url(#b6)"/>
<rect x="395.80" y="337.75" width="13.2" height="48.60000000000002" fill="#a8a8a8" opacity="0.5" filter="url(#b5)"/>
<rect x="396.10" y="343.5" width="12.6" height="1.6" fill="#666" opacity="0.16" filter="url(#b3)"/>
<rect x="396.10" y="346.8" width="12.6" height="1.6" fill="#666" opacity="0.1" filter="url(#b3)"/>
<rect x="396.10" y="350.2" width="12.6" height="1.6" fill="#666" opacity="0.14" filter="url(#b3)"/>
<rect x="396.10" y="364.8" width="12.6" height="1.6" fill="#666" opacity="0.1" filter="url(#b3)"/>
<rect x="396.10" y="368.5" width="12.6" height="1.6" fill="#666" opacity="0.16" filter="url(#b3)"/>
<rect x="396.10" y="372.0" width="12.6" height="1.6" fill="#666" opacity="0.14" filter="url(#b3)"/>
<rect x="396.10" y="375.5" width="12.6" height="1.6" fill="#666" opacity="0.12" filter="url(#b3)"/>
<rect x="396.10" y="379" width="12.6" height="1.6" fill="#666" opacity="0.1" filter="url(#b3)"/>
<rect x="395.10" y="354.70" width="14.6" height="5.2" rx="2.4" fill="#484848" opacity="0.88" filter="url(#b6)"/>
<rect x="414.00" y="337.75" width="13.2" height="48.60000000000002" fill="#a8a8a8" opacity="0.5" filter="url(#b5)"/>
<rect x="414.30" y="343.5" width="12.6" height="1.6" fill="#666" opacity="0.16" filter="url(#b3)"/>
<rect x="414.30" y="346.8" width="12.6" height="1.6" fill="#666" opacity="0.1" filter="url(#b3)"/>
<rect x="414.30" y="350.2" width="12.6" height="1.6" fill="#666" opacity="0.14" filter="url(#b3)"/>
<rect x="414.30" y="364.8" width="12.6" height="1.6" fill="#666" opacity="0.1" filter="url(#b3)"/>
<rect x="414.30" y="368.5" width="12.6" height="1.6" fill="#666" opacity="0.16" filter="url(#b3)"/>
<rect x="414.30" y="372.0" width="12.6" height="1.6" fill="#666" opacity="0.14" filter="url(#b3)"/>
<rect x="414.30" y="375.5" width="12.6" height="1.6" fill="#666" opacity="0.12" filter="url(#b3)"/>
<rect x="414.30" y="379" width="12.6" height="1.6" fill="#666" opacity="0.1" filter="url(#b3)"/>
<rect x="413.30" y="354.70" width="14.6" height="5.2" rx="2.4" fill="#484848" opacity="0.88" filter="url(#b6)"/>
<rect x="434.20" y="337.75" width="13.2" height="48.60000000000002" fill="#a8a8a8" opacity="0.5" filter="url(#b5)"/>
<rect x="434.50" y="343.5" width="12.6" height="1.6" fill="#666" opacity="0.16" filter="url(#b3)"/>
<rect x="434.50" y="346.8" width="12.6" height="1.6" fill="#666" opacity="0.1" filter="url(#b3)"/>
<rect x="434.50" y="350.2" width="12.6" height="1.6" fill="#666" opacity="0.14" filter="url(#b3)"/>
<rect x="434.50" y="364.8" width="12.6" height="1.6" fill="#666" opacity="0.1" filter="url(#b3)"/>
<rect x="434.50" y="368.5" width="12.6" height="1.6" fill="#666" opacity="0.16" filter="url(#b3)"/>
<rect x="434.50" y="372.0" width="12.6" height="1.6" fill="#666" opacity="0.14" filter="url(#b3)"/>
<rect x="434.50" y="375.5" width="12.6" height="1.6" fill="#666" opacity="0.12" filter="url(#b3)"/>
<rect x="434.50" y="379" width="12.6" height="1.6" fill="#666" opacity="0.1" filter="url(#b3)"/>
<rect x="433.50" y="354.70" width="14.6" height="5.2" rx="2.4" fill="#484848" opacity="0.88" filter="url(#b6)"/>
</g>
<rect x="339.95" y="340.75" width="112.10" height="42.60" fill="none" stroke="#0d0a12" stroke-width="1.6"/>
<text x="337.10" y="289.40" font-size="7.65" font-weight="normal" text-anchor="end">SERCA1a -</text>
<text x="337.10" y="323.10" font-size="7.65" font-weight="normal" text-anchor="end">SERCA2a -</text>
<text x="336.10" y="349.60" font-size="7.65" font-weight="normal" text-anchor="end">Ponceau</text>
<text x="456.65" y="289.40" font-size="7.65" font-weight="normal" text-anchor="start">110 kDa</text>
<text x="456.65" y="323.10" font-size="7.65" font-weight="normal" text-anchor="start">110 kDa</text>
<line x1="545.10" y1="248.00" x2="576.40" y2="248.00" stroke="#0b0910" stroke-width="2.2"/>
<text x="561.05" y="245.40" font-size="9.0" font-weight="normal" text-anchor="middle" style="stroke-width:0.15px">GC</text>
<line x1="581.80" y1="248.00" x2="613.10" y2="248.00" stroke="#0b0910" stroke-width="2.2"/>
<text x="597.75" y="245.40" font-size="8.9" font-weight="normal" text-anchor="middle" style="stroke-width:0.15px">VIV</text>
<line x1="618.50" y1="248.00" x2="649.80" y2="248.00" stroke="#0b0910" stroke-width="2.2"/>
<text x="634.45" y="245.40" font-size="8.9" font-weight="normal" text-anchor="middle" style="stroke-width:0.15px">Flight</text>
<text x="550.90" y="270.00" font-size="6.8" font-weight="normal" text-anchor="start" transform="rotate(-45 550.9 270.0)" style="stroke-width:0.15px">Saline</text>
<text x="569.30" y="270.00" font-size="6.8" font-weight="normal" text-anchor="start" transform="rotate(-45 569.3 270.0)" style="stroke-width:0.15px">BuOE</text>
<text x="587.70" y="270.00" font-size="6.8" font-weight="normal" text-anchor="start" transform="rotate(-45 587.6999999999999 270.0)" style="stroke-width:0.15px">Saline</text>
<text x="606.10" y="270.00" font-size="6.8" font-weight="normal" text-anchor="start" transform="rotate(-45 606.1 270.0)" style="stroke-width:0.15px">BuOE</text>
<text x="624.50" y="270.00" font-size="6.8" font-weight="normal" text-anchor="start" transform="rotate(-45 624.5 270.0)" style="stroke-width:0.15px">Saline</text>
<text x="642.90" y="270.00" font-size="6.8" font-weight="normal" text-anchor="start" transform="rotate(-45 642.9 270.0)" style="stroke-width:0.15px">BuOE</text>
<clipPath id="c540_0"><rect x="540.55" y="271.95" width="112.5" height="28.80000000000001"/></clipPath>
<g clip-path="url(#c540_0)">
<rect x="540.55" y="271.95" width="112.50" height="28.80" fill="#e3e3e3" stroke="none" stroke-width="0"/>
<rect x="545.30" y="283.90" width="8.60" height="7" fill="#000" opacity="0.08" filter="url(#b4)"/>
<rect x="545.30" y="282.40" width="8.60" height="3.00" rx="1.50" fill="#000" opacity="0.9" filter="url(#b1)"/>
<rect x="563.20" y="285.00" width="10.40" height="7" fill="#000" opacity="0.1" filter="url(#b4)"/>
<rect x="563.20" y="283.20" width="10.40" height="3.60" rx="1.80" fill="#000" opacity="1.0" filter="url(#b1)"/>
<rect x="581.80" y="285.30" width="10.40" height="7" fill="#000" opacity="0.1" filter="url(#b4)"/>
<rect x="581.80" y="283.60" width="10.40" height="3.40" rx="1.70" fill="#000" opacity="1.0" filter="url(#b1)"/>
<rect x="601.50" y="287.20" width="8.60" height="7" fill="#000" opacity="0.14" filter="url(#b4)"/>
<rect x="601.50" y="285.70" width="8.60" height="3.00" rx="1.50" fill="#000" opacity="0.6" filter="url(#b1)"/>
<rect x="619.80" y="288.40" width="10.00" height="7" fill="#000" opacity="0.12" filter="url(#b4)"/>
<rect x="619.80" y="286.20" width="10.00" height="4.40" rx="2.20" fill="#000" opacity="1.0" filter="url(#b1)"/>
<rect x="639.30" y="287.70" width="9.60" height="7" fill="#000" opacity="0.12" filter="url(#b4)"/>
<rect x="639.30" y="285.90" width="9.60" height="3.60" rx="1.80" fill="#000" opacity="0.95" filter="url(#b1)"/>
</g>
<rect x="540.55" y="271.95" width="112.50" height="28.80" fill="none" stroke="#0d0a12" stroke-width="1.6"/>
<clipPath id="c540_1"><rect x="540.55" y="306.05" width="112.5" height="28.80000000000001"/></clipPath>
<g clip-path="url(#c540_1)">
<rect x="540.55" y="306.05" width="112.50" height="28.80" fill="#d1d1d1" stroke="none" stroke-width="0"/>
<rect x="545.00" y="318.50" width="10.00" height="9" fill="#000" opacity="0.28" filter="url(#b4)"/>
<rect x="545.00" y="316.60" width="10.00" height="3.80" rx="1.90" fill="#000" opacity="1.0" filter="url(#b1)"/>
<rect x="562.50" y="318.20" width="10.60" height="9" fill="#000" opacity="0.3" filter="url(#b4)"/>
<rect x="562.50" y="316.20" width="10.60" height="4.00" rx="2.00" fill="#000" opacity="1.0" filter="url(#b1)"/>
<rect x="580.80" y="317.30" width="11.60" height="9" fill="#000" opacity="0.3" filter="url(#b4)"/>
<rect x="580.80" y="315.40" width="11.60" height="3.80" rx="1.90" fill="#000" opacity="1.0" filter="url(#b1)"/>
<rect x="600.80" y="319.60" width="9.00" height="9" fill="#000" opacity="0.2" filter="url(#b4)"/>
<rect x="600.80" y="318.00" width="9.00" height="3.20" rx="1.60" fill="#000" opacity="0.55" filter="url(#b1)"/>
<rect x="618.10" y="321.30" width="11.60" height="9" fill="#000" opacity="0.3" filter="url(#b4)"/>
<rect x="618.10" y="319.20" width="11.60" height="4.20" rx="2.10" fill="#000" opacity="1.0" filter="url(#b1)"/>
<rect x="637.30" y="322.40" width="11.40" height="9" fill="#000" opacity="0.3" filter="url(#b4)"/>
<rect x="637.30" y="320.30" width="11.40" height="4.20" rx="2.10" fill="#000" opacity="1.0" filter="url(#b1)"/>
</g>
<rect x="540.55" y="306.05" width="112.50" height="28.80" fill="none" stroke="#0d0a12" stroke-width="1.6"/>
<clipPath id="c540_2"><rect x="540.55" y="340.75" width="112.5" height="43.19999999999999"/></clipPath>
<g clip-path="url(#c540_2)">
<rect x="540.55" y="340.75" width="112.50" height="43.20" fill="#d6d6d6" stroke="none" stroke-width="0"/>
<rect x="543.40" y="337.75" width="13.2" height="49.19999999999999" fill="#a8a8a8" opacity="0.5" filter="url(#b5)"/>
<rect x="543.70" y="344.5" width="12.6" height="1.6" fill="#666" opacity="0.16" filter="url(#b3)"/>
<rect x="543.70" y="361.5" width="12.6" height="1.6" fill="#666" opacity="0.1" filter="url(#b3)"/>
<rect x="543.70" y="365" width="12.6" height="1.6" fill="#666" opacity="0.14" filter="url(#b3)"/>
<rect x="543.70" y="382" width="12.6" height="1.6" fill="#666" opacity="0.1" filter="url(#b3)"/>
<rect x="543.70" y="368.5" width="12.6" height="1.6" fill="#666" opacity="0.16" filter="url(#b3)"/>
<rect x="543.70" y="372.0" width="12.6" height="1.6" fill="#666" opacity="0.14" filter="url(#b3)"/>
<rect x="543.70" y="375.5" width="12.6" height="1.6" fill="#666" opacity="0.12" filter="url(#b3)"/>
<rect x="543.70" y="379" width="12.6" height="1.6" fill="#666" opacity="0.1" filter="url(#b3)"/>
<rect x="542.70" y="351.30" width="14.6" height="6.2" rx="2.4" fill="#484848" opacity="0.88" filter="url(#b6)"/>
<rect x="561.80" y="337.75" width="13.2" height="49.19999999999999" fill="#a8a8a8" opacity="0.5" filter="url(#b5)"/>
<rect x="562.10" y="344.5" width="12.6" height="1.6" fill="#666" opacity="0.16" filter="url(#b3)"/>
<rect x="562.10" y="361.5" width="12.6" height="1.6" fill="#666" opacity="0.1" filter="url(#b3)"/>
<rect x="562.10" y="365" width="12.6" height="1.6" fill="#666" opacity="0.14" filter="url(#b3)"/>
<rect x="562.10" y="382" width="12.6" height="1.6" fill="#666" opacity="0.1" filter="url(#b3)"/>
<rect x="562.10" y="368.5" width="12.6" height="1.6" fill="#666" opacity="0.16" filter="url(#b3)"/>
<rect x="562.10" y="372.0" width="12.6" height="1.6" fill="#666" opacity="0.14" filter="url(#b3)"/>
<rect x="562.10" y="375.5" width="12.6" height="1.6" fill="#666" opacity="0.12" filter="url(#b3)"/>
<rect x="562.10" y="379" width="12.6" height="1.6" fill="#666" opacity="0.1" filter="url(#b3)"/>
<rect x="561.10" y="351.30" width="14.6" height="6.2" rx="2.4" fill="#484848" opacity="0.88" filter="url(#b6)"/>
<rect x="580.20" y="337.75" width="13.2" height="49.19999999999999" fill="#a8a8a8" opacity="0.5" filter="url(#b5)"/>
<rect x="580.50" y="344.5" width="12.6" height="1.6" fill="#666" opacity="0.16" filter="url(#b3)"/>
<rect x="580.50" y="361.5" width="12.6" height="1.6" fill="#666" opacity="0.1" filter="url(#b3)"/>
<rect x="580.50" y="365" width="12.6" height="1.6" fill="#666" opacity="0.14" filter="url(#b3)"/>
<rect x="580.50" y="382" width="12.6" height="1.6" fill="#666" opacity="0.1" filter="url(#b3)"/>
<rect x="580.50" y="368.5" width="12.6" height="1.6" fill="#666" opacity="0.16" filter="url(#b3)"/>
<rect x="580.50" y="372.0" width="12.6" height="1.6" fill="#666" opacity="0.14" filter="url(#b3)"/>
<rect x="580.50" y="375.5" width="12.6" height="1.6" fill="#666" opacity="0.12" filter="url(#b3)"/>
<rect x="580.50" y="379" width="12.6" height="1.6" fill="#666" opacity="0.1" filter="url(#b3)"/>
<rect x="579.50" y="351.30" width="14.6" height="6.2" rx="2.4" fill="#484848" opacity="0.88" filter="url(#b6)"/>
<rect x="598.80" y="337.75" width="13.2" height="49.19999999999999" fill="#a8a8a8" opacity="0.5" filter="url(#b5)"/>
<rect x="599.10" y="344.5" width="12.6" height="1.6" fill="#666" opacity="0.16" filter="url(#b3)"/>
<rect x="599.10" y="361.5" width="12.6" height="1.6" fill="#666" opacity="0.1" filter="url(#b3)"/>
<rect x="599.10" y="365" width="12.6" height="1.6" fill="#666" opacity="0.14" filter="url(#b3)"/>
<rect x="599.10" y="382" width="12.6" height="1.6" fill="#666" opacity="0.1" filter="url(#b3)"/>
<rect x="599.10" y="368.5" width="12.6" height="1.6" fill="#666" opacity="0.16" filter="url(#b3)"/>
<rect x="599.10" y="372.0" width="12.6" height="1.6" fill="#666" opacity="0.14" filter="url(#b3)"/>
<rect x="599.10" y="375.5" width="12.6" height="1.6" fill="#666" opacity="0.12" filter="url(#b3)"/>
<rect x="599.10" y="379" width="12.6" height="1.6" fill="#666" opacity="0.1" filter="url(#b3)"/>
<rect x="598.10" y="351.30" width="14.6" height="6.2" rx="2.4" fill="#484848" opacity="0.88" filter="url(#b6)"/>
<rect x="617.20" y="337.75" width="13.2" height="49.19999999999999" fill="#a8a8a8" opacity="0.5" filter="url(#b5)"/>
<rect x="617.50" y="344.5" width="12.6" height="1.6" fill="#666" opacity="0.16" filter="url(#b3)"/>
<rect x="617.50" y="361.5" width="12.6" height="1.6" fill="#666" opacity="0.1" filter="url(#b3)"/>
<rect x="617.50" y="365" width="12.6" height="1.6" fill="#666" opacity="0.14" filter="url(#b3)"/>
<rect x="617.50" y="382" width="12.6" height="1.6" fill="#666" opacity="0.1" filter="url(#b3)"/>
<rect x="617.50" y="368.5" width="12.6" height="1.6" fill="#666" opacity="0.16" filter="url(#b3)"/>
<rect x="617.50" y="372.0" width="12.6" height="1.6" fill="#666" opacity="0.14" filter="url(#b3)"/>
<rect x="617.50" y="375.5" width="12.6" height="1.6" fill="#666" opacity="0.12" filter="url(#b3)"/>
<rect x="617.50" y="379" width="12.6" height="1.6" fill="#666" opacity="0.1" filter="url(#b3)"/>
<rect x="616.50" y="351.30" width="14.6" height="6.2" rx="2.4" fill="#484848" opacity="0.88" filter="url(#b6)"/>
<rect x="636.40" y="337.75" width="13.2" height="49.19999999999999" fill="#a8a8a8" opacity="0.5" filter="url(#b5)"/>
<rect x="636.70" y="344.5" width="12.6" height="1.6" fill="#666" opacity="0.16" filter="url(#b3)"/>
<rect x="636.70" y="361.5" width="12.6" height="1.6" fill="#666" opacity="0.1" filter="url(#b3)"/>
<rect x="636.70" y="365" width="12.6" height="1.6" fill="#666" opacity="0.14" filter="url(#b3)"/>
<rect x="636.70" y="382" width="12.6" height="1.6" fill="#666" opacity="0.1" filter="url(#b3)"/>
<rect x="636.70" y="368.5" width="12.6" height="1.6" fill="#666" opacity="0.16" filter="url(#b3)"/>
<rect x="636.70" y="372.0" width="12.6" height="1.6" fill="#666" opacity="0.14" filter="url(#b3)"/>
<rect x="636.70" y="375.5" width="12.6" height="1.6" fill="#666" opacity="0.12" filter="url(#b3)"/>
<rect x="636.70" y="379" width="12.6" height="1.6" fill="#666" opacity="0.1" filter="url(#b3)"/>
<rect x="635.70" y="351.30" width="14.6" height="6.2" rx="2.4" fill="#484848" opacity="0.88" filter="url(#b6)"/>
</g>
<rect x="540.55" y="340.75" width="112.50" height="43.20" fill="none" stroke="#0d0a12" stroke-width="1.6"/>
<text x="537.80" y="289.40" font-size="7.65" font-weight="normal" text-anchor="end">RYR -</text>
<text x="537.80" y="323.10" font-size="7.65" font-weight="normal" text-anchor="end">p-RYR -</text>
<text x="537.20" y="349.60" font-size="7.65" font-weight="normal" text-anchor="end">Ponceau</text>
<text x="657.65" y="300.20" font-size="7.65" font-weight="normal" text-anchor="start">250 kDa</text>
<text x="657.65" y="333.90" font-size="7.65" font-weight="normal" text-anchor="start">250 kDa</text>
</svg>
</body></html>
